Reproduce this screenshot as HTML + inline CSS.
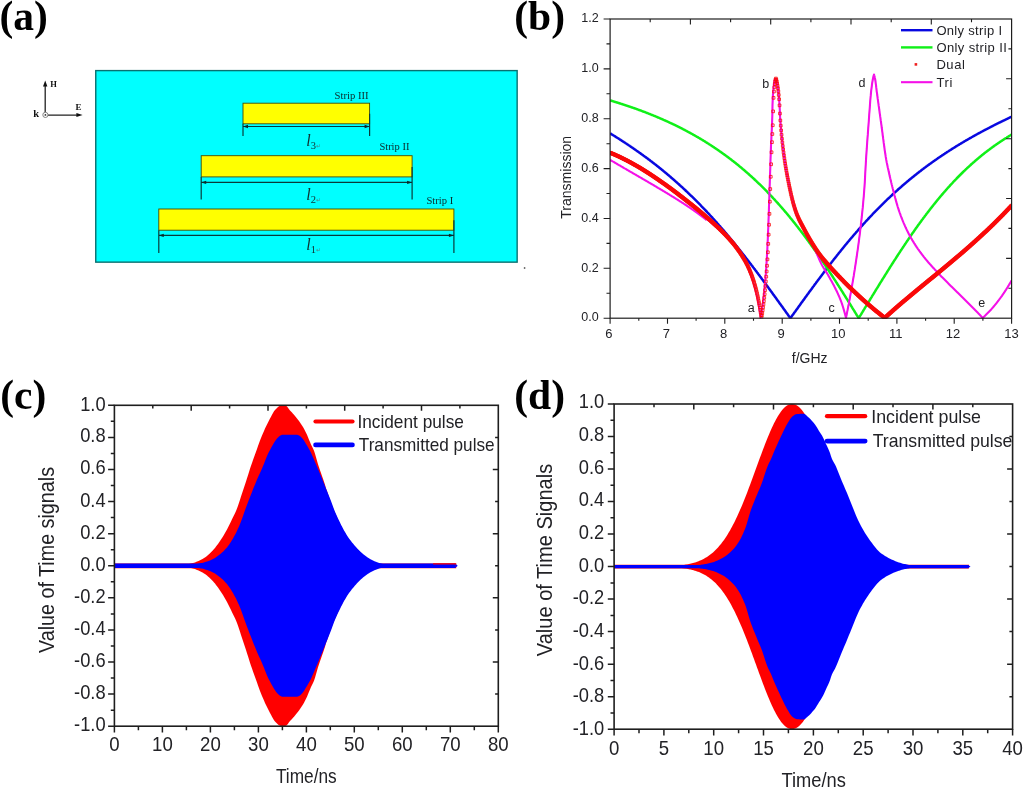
<!DOCTYPE html>
<html lang="en"><head><meta charset="utf-8"><title>Figure</title>
<style>html,body{margin:0;padding:0;background:#fff}svg{display:block}</style></head><body>
<svg width="1025" height="788" viewBox="0 0 1025 788">
<rect width="1025" height="788" fill="#fff"/>
<text x="-0.5" y="29.7" font-family='"Liberation Serif", "Times New Roman", serif' font-weight="bold" font-size="41.5" fill="#000">(a)</text>
<text x="514.3" y="29.5" font-family='"Liberation Serif", "Times New Roman", serif' font-weight="bold" font-size="41.5" fill="#000">(b)</text>
<text x="0.3" y="409.2" font-family='"Liberation Serif", "Times New Roman", serif' font-weight="bold" font-size="41.5" fill="#000">(c)</text>
<text x="514.3" y="408.6" font-family='"Liberation Serif", "Times New Roman", serif' font-weight="bold" font-size="41.5" fill="#000">(d)</text>
<g id="pa">
<rect x="95.75" y="70.6" width="421.4" height="191.55" fill="#00ffff" stroke="#0a7070" stroke-width="1.4"/>
<rect x="243" y="103.2" width="126.6" height="20.6" fill="#ffff00" stroke="#4a4a00" stroke-width="0.9"/>
<path d="M243 123.8 V136 M369.6 113.8 V136 M243 126.5 H369.6" stroke="#0a3a3a" stroke-width="1.2" fill="none"/>
<path d="M243 126.5 l5 -1.7 v3.4 z M369.6 126.5 l-5 -1.7 v3.4 z" fill="#0b2a2a"/>
<text x="334.6" y="99.2" textLength="34" lengthAdjust="spacingAndGlyphs" font-family='"Liberation Serif", "Times New Roman", serif' font-size="11" fill="#0c2c2c">Strip III</text>
<text x="306.3" y="145.6" font-family='"Liberation Serif", "Times New Roman", serif' font-size="16" font-style="italic" fill="#103030">l<tspan font-style="normal" font-size="10.5" dy="3">3</tspan><tspan font-style="normal" font-size="6" fill="#4a8a8a" dy="-1">↵</tspan></text>
<rect x="201.2" y="155.7" width="210.9" height="21.2" fill="#ffff00" stroke="#4a4a00" stroke-width="0.9"/>
<path d="M201.2 176.9 V199.6 M412.1 166.9 V199.6 M201.2 182.4 H412.1" stroke="#0a3a3a" stroke-width="1.2" fill="none"/>
<path d="M201.2 182.4 l5 -1.7 v3.4 z M412.1 182.4 l-5 -1.7 v3.4 z" fill="#0b2a2a"/>
<text x="379.4" y="150.2" textLength="30" lengthAdjust="spacingAndGlyphs" font-family='"Liberation Serif", "Times New Roman", serif' font-size="11" fill="#0c2c2c">Strip II</text>
<text x="306.3" y="199.6" font-family='"Liberation Serif", "Times New Roman", serif' font-size="16" font-style="italic" fill="#103030">l<tspan font-style="normal" font-size="10.5" dy="3">2</tspan><tspan font-style="normal" font-size="6" fill="#4a8a8a" dy="-1">↵</tspan></text>
<rect x="158.8" y="209" width="295.1" height="21.2" fill="#ffff00" stroke="#4a4a00" stroke-width="0.9"/>
<path d="M158.8 230.2 V253 M453.9 220.2 V253 M158.8 235.4 H453.9" stroke="#0a3a3a" stroke-width="1.2" fill="none"/>
<path d="M158.8 235.4 l5 -1.7 v3.4 z M453.9 235.4 l-5 -1.7 v3.4 z" fill="#0b2a2a"/>
<text x="426.5" y="203.6" textLength="26.7" lengthAdjust="spacingAndGlyphs" font-family='"Liberation Serif", "Times New Roman", serif' font-size="11" fill="#0c2c2c">Strip I</text>
<text x="306.3" y="250.0" font-family='"Liberation Serif", "Times New Roman", serif' font-size="16" font-style="italic" fill="#103030">l<tspan font-style="normal" font-size="10.5" dy="3">1</tspan><tspan font-style="normal" font-size="6" fill="#4a8a8a" dy="-1">↵</tspan></text>
<path d="M45.2 115 V84 M45.2 115.1 H78" stroke="#222" stroke-width="1.3" fill="none"/>
<path d="M45.2 80.5 l2.2 6 h-4.4 z M82.6 115.1 l-6.2 -2 v4 z" fill="#111"/>
<circle cx="45.4" cy="114.9" r="2.6" fill="#fff" stroke="#777" stroke-width="0.9"/><circle cx="45.4" cy="114.9" r="0.9" fill="#333"/>
<text x="50.3" y="87.2" font-family='"Liberation Serif", "Times New Roman", serif' font-weight="bold" font-size="8.5" fill="#111">H</text>
<text x="75.5" y="109.6" font-family='"Liberation Serif", "Times New Roman", serif' font-weight="bold" font-size="9" fill="#111">E</text>
<text x="33.3" y="116.8" font-family='"Liberation Serif", "Times New Roman", serif' font-weight="bold" font-size="10.5" fill="#111">k</text>
<circle cx="524.6" cy="268" r="0.9" fill="#666"/>
</g>
<g id="pb">
<clipPath id="cb"><rect x="610.1" y="19.0" width="401.5" height="299.8"/></clipPath>
<g clip-path="url(#cb)" fill="none" stroke-linejoin="round">
<polyline points="610.1,133.3 610.6,133.6 611.1,133.9 611.6,134.3 612.1,134.6 612.6,134.9 613.1,135.2 613.6,135.5 614.1,135.8 614.6,136.1 615.1,136.4 615.6,136.7 616.1,137.1 616.6,137.4 617.1,137.7 617.6,138 618.1,138.3 618.6,138.6 619.1,139 619.6,139.3 620.1,139.6 620.6,139.9 621.1,140.2 621.6,140.6 622.1,140.9 622.6,141.2 623.1,141.5 623.6,141.9 624.1,142.2 624.6,142.5 625.1,142.8 625.6,143.2 626.1,143.5 626.6,143.8 627.1,144.2 627.6,144.5 628.1,144.8 628.6,145.2 629.1,145.5 629.6,145.8 630.1,146.2 630.6,146.5 631.1,146.9 631.6,147.2 632.1,147.5 632.6,147.9 633.1,148.2 633.6,148.6 634.1,148.9 634.6,149.3 635.1,149.6 635.6,150 636.1,150.3 636.6,150.7 637.1,151 637.6,151.4 638.1,151.7 638.6,152.1 639.1,152.4 639.6,152.8 640.1,153.1 640.6,153.5 641.1,153.9 641.6,154.2 642.1,154.6 642.6,154.9 643.1,155.3 643.6,155.7 644.1,156 644.6,156.4 645.1,156.8 645.6,157.1 646.1,157.5 646.6,157.9 647.1,158.2 647.6,158.6 648.1,159 648.6,159.4 649.1,159.7 649.6,160.1 650.1,160.5 650.6,160.9 651.1,161.3 651.6,161.6 652.1,162 652.6,162.4 653.1,162.8 653.6,163.2 654.1,163.6 654.6,164 655.1,164.3 655.6,164.7 656.1,165.1 656.6,165.5 657.1,165.9 657.6,166.3 658.1,166.7 658.6,167.1 659.1,167.5 659.6,167.9 660.1,168.3 660.6,168.7 661.1,169.1 661.6,169.5 662.1,169.9 662.6,170.3 663.1,170.7 663.6,171.2 664.1,171.6 664.6,172 665.1,172.4 665.6,172.8 666.1,173.2 666.6,173.6 667.1,174.1 667.6,174.5 668.1,174.9 668.6,175.3 669.1,175.7 669.6,176.2 670.1,176.6 670.6,177 671.1,177.5 671.6,177.9 672.1,178.3 672.6,178.8 673.1,179.2 673.6,179.6 674.1,180.1 674.6,180.5 675.1,180.9 675.6,181.4 676.1,181.8 676.6,182.3 677.1,182.7 677.6,183.2 678.1,183.6 678.6,184.1 679.1,184.5 679.6,185 680.1,185.4 680.6,185.9 681.1,186.3 681.6,186.8 682.1,187.2 682.6,187.7 683.1,188.2 683.6,188.6 684.1,189.1 684.6,189.6 685.1,190 685.6,190.5 686.1,191 686.6,191.4 687.1,191.9 687.6,192.4 688.1,192.9 688.6,193.3 689.1,193.8 689.6,194.3 690.1,194.8 690.6,195.3 691.1,195.8 691.6,196.2 692.1,196.7 692.6,197.2 693.1,197.7 693.6,198.2 694.1,198.7 694.6,199.2 695.1,199.7 695.6,200.2 696.1,200.7 696.6,201.2 697.1,201.7 697.6,202.2 698.1,202.7 698.6,203.2 699.1,203.7 699.6,204.2 700.1,204.7 700.6,205.2 701.1,205.8 701.6,206.3 702.1,206.8 702.6,207.3 703.1,207.8 703.6,208.4 704.1,208.9 704.6,209.4 705.1,209.9 705.6,210.5 706.1,211 706.6,211.5 707.1,212 707.6,212.6 708.1,213.1 708.6,213.7 709.1,214.2 709.6,214.7 710.1,215.3 710.6,215.8 711.1,216.4 711.6,216.9 712.1,217.5 712.6,218 713.1,218.6 713.6,219.1 714.1,219.7 714.6,220.2 715.1,220.8 715.6,221.3 716.1,221.9 716.6,222.5 717.1,223 717.6,223.6 718.1,224.1 718.6,224.7 719.1,225.3 719.6,225.8 720.1,226.4 720.6,227 721.1,227.6 721.6,228.1 722.1,228.7 722.6,229.3 723.1,229.9 723.6,230.5 724.1,231 724.6,231.6 725.1,232.2 725.6,232.8 726.1,233.4 726.6,234 727.1,234.6 727.6,235.2 728.1,235.8 728.6,236.4 729.1,237 729.6,237.6 730.1,238.2 730.6,238.8 731.1,239.4 731.6,240 732.1,240.6 732.6,241.2 733.1,241.8 733.6,242.4 734.1,243 734.6,243.6 735.1,244.2 735.6,244.8 736.1,245.5 736.6,246.1 737.1,246.7 737.6,247.3 738.1,247.9 738.6,248.6 739.1,249.2 739.6,249.8 740.1,250.4 740.6,251.1 741.1,251.7 741.6,252.3 742.1,253 742.6,253.6 743.1,254.2 743.6,254.9 744.1,255.5 744.6,256.1 745.1,256.8 745.6,257.4 746.1,258.1 746.6,258.7 747.1,259.3 747.6,260 748.1,260.6 748.6,261.3 749.1,261.9 749.6,262.6 750.1,263.2 750.6,263.9 751.1,264.5 751.6,265.2 752.1,265.8 752.6,266.5 753.1,267.2 753.6,267.8 754.1,268.5 754.6,269.1 755.1,269.8 755.6,270.5 756.1,271.1 756.6,271.8 757.1,272.5 757.6,273.1 758.1,273.8 758.6,274.5 759.1,275.1 759.6,275.8 760.1,276.5 760.6,277.1 761.1,277.8 761.6,278.5 762.1,279.2 762.6,279.8 763.1,280.5 763.6,281.2 764.1,281.9 764.6,282.5 765.1,283.2 765.6,283.9 766.1,284.6 766.6,285.3 767.1,285.9 767.6,286.6 768.1,287.3 768.6,288 769.1,288.7 769.6,289.4 770.1,290 770.6,290.7 771.1,291.4 771.6,292.1 772.1,292.8 772.6,293.5 773.1,294.2 773.6,294.9 774.1,295.5 774.6,296.2 775.1,296.9 775.6,297.6 776.1,298.3 776.6,299 777.1,299.7 777.6,300.4 778.1,301.1 778.6,301.8 779.1,302.5 779.6,303.2 780.1,303.9 780.6,304.5 781.1,305.2 781.6,305.9 782.1,306.6 782.6,307.3 783.1,308 783.6,308.7 784.1,309.4 784.6,310.1 785.1,310.8 785.6,311.5 786.1,312.2 786.6,312.9 787.1,313.6 787.6,314.3 788.1,315 788.6,315.7 789.1,316.4 789.6,317.1 790.1,317.8 790.4,318.2 790.6,317.9 791.1,317.2 791.6,316.5 792.1,315.8 792.6,315.1 793.1,314.4 793.6,313.7 794.1,313 794.6,312.3 795.1,311.7 795.6,311 796.1,310.3 796.6,309.6 797.1,308.9 797.6,308.2 798.1,307.5 798.6,306.8 799.1,306.1 799.6,305.4 800.1,304.7 800.6,304 801.1,303.3 801.6,302.6 802.1,301.9 802.6,301.2 803.1,300.5 803.6,299.9 804.1,299.2 804.6,298.5 805.1,297.8 805.6,297.1 806.1,296.4 806.6,295.7 807.1,295 807.6,294.3 808.1,293.7 808.6,293 809.1,292.3 809.6,291.6 810.1,290.9 810.6,290.2 811.1,289.6 811.6,288.9 812.1,288.2 812.6,287.5 813.1,286.8 813.6,286.2 814.1,285.5 814.6,284.8 815.1,284.1 815.6,283.5 816.1,282.8 816.6,282.1 817.1,281.4 817.6,280.8 818.1,280.1 818.6,279.4 819.1,278.7 819.6,278.1 820.1,277.4 820.6,276.7 821.1,276.1 821.6,275.4 822.1,274.7 822.6,274.1 823.1,273.4 823.6,272.8 824.1,272.1 824.6,271.4 825.1,270.8 825.6,270.1 826.1,269.5 826.6,268.8 827.1,268.2 827.6,267.5 828.1,266.9 828.6,266.2 829.1,265.6 829.6,264.9 830.1,264.3 830.6,263.6 831.1,263 831.6,262.3 832.1,261.7 832.6,261 833.1,260.4 833.6,259.8 834.1,259.1 834.6,258.5 835.1,257.9 835.6,257.2 836.1,256.6 836.6,256 837.1,255.3 837.6,254.7 838.1,254.1 838.6,253.4 839.1,252.8 839.6,252.2 840.1,251.6 840.6,251 841.1,250.3 841.6,249.7 842.1,249.1 842.6,248.5 843.1,247.9 843.6,247.3 844.1,246.6 844.6,246 845.1,245.4 845.6,244.8 846.1,244.2 846.6,243.6 847.1,243 847.6,242.4 848.1,241.8 848.6,241.2 849.1,240.6 849.6,240 850.1,239.4 850.6,238.8 851.1,238.2 851.6,237.6 852.1,237.1 852.6,236.5 853.1,235.9 853.6,235.3 854.1,234.7 854.6,234.1 855.1,233.6 855.6,233 856.1,232.4 856.6,231.8 857.1,231.3 857.6,230.7 858.1,230.1 858.6,229.5 859.1,229 859.6,228.4 860.1,227.8 860.6,227.3 861.1,226.7 861.6,226.2 862.1,225.6 862.6,225 863.1,224.5 863.6,223.9 864.1,223.4 864.6,222.8 865.1,222.3 865.6,221.7 866.1,221.2 866.6,220.7 867.1,220.1 867.6,219.6 868.1,219 868.6,218.5 869.1,218 869.6,217.4 870.1,216.9 870.6,216.4 871.1,215.8 871.6,215.3 872.1,214.8 872.6,214.2 873.1,213.7 873.6,213.2 874.1,212.7 874.6,212.2 875.1,211.6 875.6,211.1 876.1,210.6 876.6,210.1 877.1,209.6 877.6,209.1 878.1,208.6 878.6,208.1 879.1,207.6 879.6,207.1 880.1,206.6 880.6,206.1 881.1,205.6 881.6,205.1 882.1,204.6 882.6,204.1 883.1,203.6 883.6,203.1 884.1,202.6 884.6,202.1 885.1,201.6 885.6,201.1 886.1,200.7 886.6,200.2 887.1,199.7 887.6,199.2 888.1,198.7 888.6,198.3 889.1,197.8 889.6,197.3 890.1,196.9 890.6,196.4 891.1,195.9 891.6,195.5 892.1,195 892.6,194.5 893.1,194.1 893.6,193.6 894.1,193.1 894.6,192.7 895.1,192.2 895.6,191.8 896.1,191.3 896.6,190.9 897.1,190.4 897.6,190 898.1,189.5 898.6,189.1 899.1,188.6 899.6,188.2 900.1,187.8 900.6,187.3 901.1,186.9 901.6,186.4 902.1,186 902.6,185.6 903.1,185.1 903.6,184.7 904.1,184.3 904.6,183.8 905.1,183.4 905.6,183 906.1,182.6 906.6,182.2 907.1,181.7 907.6,181.3 908.1,180.9 908.6,180.5 909.1,180.1 909.6,179.6 910.1,179.2 910.6,178.8 911.1,178.4 911.6,178 912.1,177.6 912.6,177.2 913.1,176.8 913.6,176.4 914.1,176 914.6,175.6 915.1,175.2 915.6,174.8 916.1,174.4 916.6,174 917.1,173.6 917.6,173.2 918.1,172.8 918.6,172.4 919.1,172 919.6,171.6 920.1,171.3 920.6,170.9 921.1,170.5 921.6,170.1 922.1,169.7 922.6,169.3 923.1,169 923.6,168.6 924.1,168.2 924.6,167.8 925.1,167.5 925.6,167.1 926.1,166.7 926.6,166.3 927.1,166 927.6,165.6 928.1,165.2 928.6,164.9 929.1,164.5 929.6,164.1 930.1,163.8 930.6,163.4 931.1,163.1 931.6,162.7 932.1,162.3 932.6,162 933.1,161.6 933.6,161.3 934.1,160.9 934.6,160.6 935.1,160.2 935.6,159.9 936.1,159.5 936.6,159.2 937.1,158.8 937.6,158.5 938.1,158.1 938.6,157.8 939.1,157.5 939.6,157.1 940.1,156.8 940.6,156.4 941.1,156.1 941.6,155.8 942.1,155.4 942.6,155.1 943.1,154.8 943.6,154.4 944.1,154.1 944.6,153.8 945.1,153.4 945.6,153.1 946.1,152.8 946.6,152.4 947.1,152.1 947.6,151.8 948.1,151.5 948.6,151.2 949.1,150.8 949.6,150.5 950.1,150.2 950.6,149.9 951.1,149.6 951.6,149.2 952.1,148.9 952.6,148.6 953.1,148.3 953.6,148 954.1,147.7 954.6,147.4 955.1,147 955.6,146.7 956.1,146.4 956.6,146.1 957.1,145.8 957.6,145.5 958.1,145.2 958.6,144.9 959.1,144.6 959.6,144.3 960.1,144 960.6,143.7 961.1,143.4 961.6,143.1 962.1,142.8 962.6,142.5 963.1,142.2 963.6,141.9 964.1,141.6 964.6,141.3 965.1,141 965.6,140.7 966.1,140.4 966.6,140.1 967.1,139.9 967.6,139.6 968.1,139.3 968.6,139 969.1,138.7 969.6,138.4 970.1,138.1 970.6,137.8 971.1,137.6 971.6,137.3 972.1,137 972.6,136.7 973.1,136.4 973.6,136.2 974.1,135.9 974.6,135.6 975.1,135.3 975.6,135 976.1,134.8 976.6,134.5 977.1,134.2 977.6,133.9 978.1,133.7 978.6,133.4 979.1,133.1 979.6,132.8 980.1,132.6 980.6,132.3 981.1,132 981.6,131.8 982.1,131.5 982.6,131.2 983.1,131 983.6,130.7 984.1,130.4 984.6,130.2 985.1,129.9 985.6,129.6 986.1,129.4 986.6,129.1 987.1,128.9 987.6,128.6 988.1,128.3 988.6,128.1 989.1,127.8 989.6,127.6 990.1,127.3 990.6,127 991.1,126.8 991.6,126.5 992.1,126.3 992.6,126 993.1,125.8 993.6,125.5 994.1,125.2 994.6,125 995.1,124.7 995.6,124.5 996.1,124.2 996.6,124 997.1,123.7 997.6,123.5 998.1,123.2 998.6,123 999.1,122.7 999.6,122.5 1000.1,122.3 1000.6,122 1001.1,121.8 1001.6,121.5 1002.1,121.3 1002.6,121 1003.1,120.8 1003.6,120.5 1004.1,120.3 1004.6,120.1 1005.1,119.8 1005.6,119.6 1006.1,119.3 1006.6,119.1 1007.1,118.9 1007.6,118.6 1008.1,118.4 1008.6,118.1 1009.1,117.9 1009.6,117.7 1010.1,117.4 1010.6,117.2 1011.1,117 1011.6,116.7" stroke="#0808e0" stroke-width="2.5"/>
<polyline points="610.1,100.4 610.6,100.5 611.1,100.7 611.6,100.8 612.1,101 612.6,101.1 613.1,101.3 613.6,101.4 614.1,101.6 614.6,101.8 615.1,101.9 615.6,102.1 616.1,102.2 616.6,102.4 617.1,102.5 617.6,102.7 618.1,102.8 618.6,103 619.1,103.2 619.6,103.3 620.1,103.5 620.6,103.6 621.1,103.8 621.6,104 622.1,104.1 622.6,104.3 623.1,104.4 623.6,104.6 624.1,104.8 624.6,104.9 625.1,105.1 625.6,105.3 626.1,105.4 626.6,105.6 627.1,105.8 627.6,105.9 628.1,106.1 628.6,106.3 629.1,106.4 629.6,106.6 630.1,106.8 630.6,106.9 631.1,107.1 631.6,107.3 632.1,107.5 632.6,107.6 633.1,107.8 633.6,108 634.1,108.2 634.6,108.3 635.1,108.5 635.6,108.7 636.1,108.9 636.6,109.1 637.1,109.2 637.6,109.4 638.1,109.6 638.6,109.8 639.1,110 639.6,110.2 640.1,110.3 640.6,110.5 641.1,110.7 641.6,110.9 642.1,111.1 642.6,111.3 643.1,111.5 643.6,111.7 644.1,111.8 644.6,112 645.1,112.2 645.6,112.4 646.1,112.6 646.6,112.8 647.1,113 647.6,113.2 648.1,113.4 648.6,113.6 649.1,113.8 649.6,114 650.1,114.2 650.6,114.4 651.1,114.6 651.6,114.8 652.1,115 652.6,115.2 653.1,115.4 653.6,115.6 654.1,115.8 654.6,116 655.1,116.2 655.6,116.4 656.1,116.6 656.6,116.8 657.1,117 657.6,117.3 658.1,117.5 658.6,117.7 659.1,117.9 659.6,118.1 660.1,118.3 660.6,118.5 661.1,118.8 661.6,119 662.1,119.2 662.6,119.4 663.1,119.6 663.6,119.9 664.1,120.1 664.6,120.3 665.1,120.5 665.6,120.7 666.1,121 666.6,121.2 667.1,121.4 667.6,121.7 668.1,121.9 668.6,122.1 669.1,122.3 669.6,122.6 670.1,122.8 670.6,123 671.1,123.3 671.6,123.5 672.1,123.7 672.6,124 673.1,124.2 673.6,124.5 674.1,124.7 674.6,124.9 675.1,125.2 675.6,125.4 676.1,125.7 676.6,125.9 677.1,126.2 677.6,126.4 678.1,126.7 678.6,126.9 679.1,127.2 679.6,127.4 680.1,127.7 680.6,127.9 681.1,128.2 681.6,128.4 682.1,128.7 682.6,128.9 683.1,129.2 683.6,129.5 684.1,129.7 684.6,130 685.1,130.2 685.6,130.5 686.1,130.8 686.6,131 687.1,131.3 687.6,131.6 688.1,131.8 688.6,132.1 689.1,132.4 689.6,132.6 690.1,132.9 690.6,133.2 691.1,133.5 691.6,133.7 692.1,134 692.6,134.3 693.1,134.6 693.6,134.9 694.1,135.1 694.6,135.4 695.1,135.7 695.6,136 696.1,136.3 696.6,136.6 697.1,136.9 697.6,137.1 698.1,137.4 698.6,137.7 699.1,138 699.6,138.3 700.1,138.6 700.6,138.9 701.1,139.2 701.6,139.5 702.1,139.8 702.6,140.1 703.1,140.4 703.6,140.7 704.1,141 704.6,141.3 705.1,141.6 705.6,142 706.1,142.3 706.6,142.6 707.1,142.9 707.6,143.2 708.1,143.5 708.6,143.8 709.1,144.2 709.6,144.5 710.1,144.8 710.6,145.1 711.1,145.5 711.6,145.8 712.1,146.1 712.6,146.4 713.1,146.8 713.6,147.1 714.1,147.4 714.6,147.8 715.1,148.1 715.6,148.4 716.1,148.8 716.6,149.1 717.1,149.5 717.6,149.8 718.1,150.1 718.6,150.5 719.1,150.8 719.6,151.2 720.1,151.5 720.6,151.9 721.1,152.2 721.6,152.6 722.1,152.9 722.6,153.3 723.1,153.7 723.6,154 724.1,154.4 724.6,154.7 725.1,155.1 725.6,155.5 726.1,155.8 726.6,156.2 727.1,156.6 727.6,156.9 728.1,157.3 728.6,157.7 729.1,158.1 729.6,158.5 730.1,158.8 730.6,159.2 731.1,159.6 731.6,160 732.1,160.4 732.6,160.8 733.1,161.1 733.6,161.5 734.1,161.9 734.6,162.3 735.1,162.7 735.6,163.1 736.1,163.5 736.6,163.9 737.1,164.3 737.6,164.7 738.1,165.1 738.6,165.5 739.1,165.9 739.6,166.4 740.1,166.8 740.6,167.2 741.1,167.6 741.6,168 742.1,168.4 742.6,168.9 743.1,169.3 743.6,169.7 744.1,170.1 744.6,170.6 745.1,171 745.6,171.4 746.1,171.9 746.6,172.3 747.1,172.7 747.6,173.2 748.1,173.6 748.6,174 749.1,174.5 749.6,174.9 750.1,175.4 750.6,175.8 751.1,176.3 751.6,176.7 752.1,177.2 752.6,177.7 753.1,178.1 753.6,178.6 754.1,179 754.6,179.5 755.1,180 755.6,180.4 756.1,180.9 756.6,181.4 757.1,181.9 757.6,182.3 758.1,182.8 758.6,183.3 759.1,183.8 759.6,184.2 760.1,184.7 760.6,185.2 761.1,185.7 761.6,186.2 762.1,186.7 762.6,187.2 763.1,187.7 763.6,188.2 764.1,188.7 764.6,189.2 765.1,189.7 765.6,190.2 766.1,190.7 766.6,191.2 767.1,191.7 767.6,192.3 768.1,192.8 768.6,193.3 769.1,193.8 769.6,194.3 770.1,194.9 770.6,195.4 771.1,195.9 771.6,196.4 772.1,197 772.6,197.5 773.1,198.1 773.6,198.6 774.1,199.1 774.6,199.7 775.1,200.2 775.6,200.8 776.1,201.3 776.6,201.9 777.1,202.4 777.6,203 778.1,203.5 778.6,204.1 779.1,204.7 779.6,205.2 780.1,205.8 780.6,206.4 781.1,206.9 781.6,207.5 782.1,208.1 782.6,208.7 783.1,209.2 783.6,209.8 784.1,210.4 784.6,211 785.1,211.6 785.6,212.2 786.1,212.7 786.6,213.3 787.1,213.9 787.6,214.5 788.1,215.1 788.6,215.7 789.1,216.3 789.6,216.9 790.1,217.6 790.6,218.2 791.1,218.8 791.6,219.4 792.1,220 792.6,220.6 793.1,221.2 793.6,221.9 794.1,222.5 794.6,223.1 795.1,223.8 795.6,224.4 796.1,225 796.6,225.7 797.1,226.3 797.6,226.9 798.1,227.6 798.6,228.2 799.1,228.9 799.6,229.5 800.1,230.2 800.6,230.8 801.1,231.5 801.6,232.1 802.1,232.8 802.6,233.4 803.1,234.1 803.6,234.8 804.1,235.4 804.6,236.1 805.1,236.8 805.6,237.4 806.1,238.1 806.6,238.8 807.1,239.5 807.6,240.2 808.1,240.8 808.6,241.5 809.1,242.2 809.6,242.9 810.1,243.6 810.6,244.3 811.1,245 811.6,245.7 812.1,246.4 812.6,247.1 813.1,247.8 813.6,248.5 814.1,249.2 814.6,249.9 815.1,250.6 815.6,251.3 816.1,252 816.6,252.7 817.1,253.5 817.6,254.2 818.1,254.9 818.6,255.6 819.1,256.3 819.6,257.1 820.1,257.8 820.6,258.5 821.1,259.3 821.6,260 822.1,260.7 822.6,261.5 823.1,262.2 823.6,262.9 824.1,263.7 824.6,264.4 825.1,265.2 825.6,265.9 826.1,266.7 826.6,267.4 827.1,268.2 827.6,268.9 828.1,269.7 828.6,270.4 829.1,271.2 829.6,272 830.1,272.7 830.6,273.5 831.1,274.2 831.6,275 832.1,275.8 832.6,276.5 833.1,277.3 833.6,278.1 834.1,278.9 834.6,279.6 835.1,280.4 835.6,281.2 836.1,282 836.6,282.7 837.1,283.5 837.6,284.3 838.1,285.1 838.6,285.9 839.1,286.7 839.6,287.4 840.1,288.2 840.6,289 841.1,289.8 841.6,290.6 842.1,291.4 842.6,292.2 843.1,293 843.6,293.8 844.1,294.6 844.6,295.4 845.1,296.2 845.6,297 846.1,297.8 846.6,298.6 847.1,299.4 847.6,300.2 848.1,301 848.6,301.8 849.1,302.6 849.6,303.4 850.1,304.2 850.6,305 851.1,305.8 851.6,306.6 852.1,307.4 852.6,308.3 853.1,309.1 853.6,309.9 854.1,310.7 854.6,311.5 855.1,312.3 855.6,313.1 856.1,314 856.6,314.8 857.1,315.6 857.6,316.4 858.1,317.2 858.6,318 858.7,318.2 859.1,317.5 859.6,316.7 860.1,315.9 860.6,315.1 861.1,314.3 861.6,313.5 862.1,312.6 862.6,311.8 863.1,311 863.6,310.2 864.1,309.4 864.6,308.5 865.1,307.7 865.6,306.9 866.1,306.1 866.6,305.3 867.1,304.4 867.6,303.6 868.1,302.8 868.6,302 869.1,301.2 869.6,300.3 870.1,299.5 870.6,298.7 871.1,297.9 871.6,297.1 872.1,296.2 872.6,295.4 873.1,294.6 873.6,293.8 874.1,293 874.6,292.2 875.1,291.3 875.6,290.5 876.1,289.7 876.6,288.9 877.1,288.1 877.6,287.3 878.1,286.5 878.6,285.7 879.1,284.8 879.6,284 880.1,283.2 880.6,282.4 881.1,281.6 881.6,280.8 882.1,280 882.6,279.2 883.1,278.4 883.6,277.6 884.1,276.8 884.6,276 885.1,275.2 885.6,274.4 886.1,273.6 886.6,272.8 887.1,272 887.6,271.2 888.1,270.4 888.6,269.6 889.1,268.8 889.6,268 890.1,267.2 890.6,266.4 891.1,265.6 891.6,264.8 892.1,264 892.6,263.3 893.1,262.5 893.6,261.7 894.1,260.9 894.6,260.1 895.1,259.4 895.6,258.6 896.1,257.8 896.6,257 897.1,256.3 897.6,255.5 898.1,254.7 898.6,253.9 899.1,253.2 899.6,252.4 900.1,251.7 900.6,250.9 901.1,250.1 901.6,249.4 902.1,248.6 902.6,247.9 903.1,247.1 903.6,246.4 904.1,245.6 904.6,244.9 905.1,244.1 905.6,243.4 906.1,242.6 906.6,241.9 907.1,241.1 907.6,240.4 908.1,239.7 908.6,238.9 909.1,238.2 909.6,237.5 910.1,236.7 910.6,236 911.1,235.3 911.6,234.6 912.1,233.8 912.6,233.1 913.1,232.4 913.6,231.7 914.1,231 914.6,230.3 915.1,229.6 915.6,228.8 916.1,228.1 916.6,227.4 917.1,226.7 917.6,226 918.1,225.3 918.6,224.6 919.1,224 919.6,223.3 920.1,222.6 920.6,221.9 921.1,221.2 921.6,220.5 922.1,219.8 922.6,219.2 923.1,218.5 923.6,217.8 924.1,217.2 924.6,216.5 925.1,215.8 925.6,215.2 926.1,214.5 926.6,213.8 927.1,213.2 927.6,212.5 928.1,211.9 928.6,211.2 929.1,210.6 929.6,209.9 930.1,209.3 930.6,208.6 931.1,208 931.6,207.4 932.1,206.7 932.6,206.1 933.1,205.5 933.6,204.8 934.1,204.2 934.6,203.6 935.1,203 935.6,202.4 936.1,201.7 936.6,201.1 937.1,200.5 937.6,199.9 938.1,199.3 938.6,198.7 939.1,198.1 939.6,197.5 940.1,196.9 940.6,196.3 941.1,195.7 941.6,195.1 942.1,194.5 942.6,194 943.1,193.4 943.6,192.8 944.1,192.2 944.6,191.6 945.1,191.1 945.6,190.5 946.1,189.9 946.6,189.4 947.1,188.8 947.6,188.2 948.1,187.7 948.6,187.1 949.1,186.6 949.6,186 950.1,185.5 950.6,184.9 951.1,184.4 951.6,183.8 952.1,183.3 952.6,182.8 953.1,182.2 953.6,181.7 954.1,181.2 954.6,180.6 955.1,180.1 955.6,179.6 956.1,179.1 956.6,178.5 957.1,178 957.6,177.5 958.1,177 958.6,176.5 959.1,176 959.6,175.5 960.1,175 960.6,174.5 961.1,174 961.6,173.5 962.1,173 962.6,172.5 963.1,172 963.6,171.5 964.1,171.1 964.6,170.6 965.1,170.1 965.6,169.6 966.1,169.1 966.6,168.7 967.1,168.2 967.6,167.7 968.1,167.3 968.6,166.8 969.1,166.3 969.6,165.9 970.1,165.4 970.6,165 971.1,164.5 971.6,164.1 972.1,163.6 972.6,163.2 973.1,162.7 973.6,162.3 974.1,161.9 974.6,161.4 975.1,161 975.6,160.6 976.1,160.1 976.6,159.7 977.1,159.3 977.6,158.8 978.1,158.4 978.6,158 979.1,157.6 979.6,157.2 980.1,156.8 980.6,156.3 981.1,155.9 981.6,155.5 982.1,155.1 982.6,154.7 983.1,154.3 983.6,153.9 984.1,153.5 984.6,153.1 985.1,152.7 985.6,152.3 986.1,152 986.6,151.6 987.1,151.2 987.6,150.8 988.1,150.4 988.6,150 989.1,149.7 989.6,149.3 990.1,148.9 990.6,148.5 991.1,148.2 991.6,147.8 992.1,147.4 992.6,147.1 993.1,146.7 993.6,146.4 994.1,146 994.6,145.6 995.1,145.3 995.6,144.9 996.1,144.6 996.6,144.2 997.1,143.9 997.6,143.6 998.1,143.2 998.6,142.9 999.1,142.5 999.6,142.2 1000.1,141.9 1000.6,141.5 1001.1,141.2 1001.6,140.9 1002.1,140.5 1002.6,140.2 1003.1,139.9 1003.6,139.6 1004.1,139.2 1004.6,138.9 1005.1,138.6 1005.6,138.3 1006.1,138 1006.6,137.7 1007.1,137.3 1007.6,137 1008.1,136.7 1008.6,136.4 1009.1,136.1 1009.6,135.8 1010.1,135.5 1010.6,135.2 1011.1,134.9 1011.6,134.6" stroke="#10f018" stroke-width="2.5"/>
<polyline points="610.1,159.9 610.6,160.2 611.1,160.5 611.6,160.8 612.1,161.1 612.6,161.4 613.1,161.6 613.6,161.9 614.1,162.2 614.6,162.5 615.1,162.8 615.6,163.1 616.1,163.4 616.6,163.7 617.1,164 617.6,164.3 618.1,164.6 618.6,164.9 619.1,165.2 619.6,165.4 620.1,165.7 620.6,166 621.1,166.3 621.6,166.6 622.1,166.9 622.6,167.2 623.1,167.5 623.6,167.8 624.1,168.1 624.6,168.4 625.1,168.6 625.6,168.9 626.1,169.2 626.6,169.5 627.1,169.8 627.6,170.1 628.1,170.4 628.6,170.7 629.1,171 629.6,171.3 630.1,171.6 630.6,171.8 631.1,172.1 631.6,172.4 632.1,172.7 632.6,173 633.1,173.3 633.6,173.6 634.1,173.9 634.6,174.2 635.1,174.4 635.6,174.7 636.1,175 636.6,175.3 637.1,175.6 637.6,175.9 638.1,176.2 638.6,176.5 639.1,176.8 639.6,177.1 640.1,177.3 640.6,177.6 641.1,177.9 641.6,178.2 642.1,178.5 642.6,178.8 643.1,179.1 643.6,179.4 644.1,179.7 644.6,180 645.1,180.2 645.6,180.5 646.1,180.8 646.6,181.1 647.1,181.4 647.6,181.7 648.1,182 648.6,182.3 649.1,182.6 649.6,182.9 650.1,183.2 650.6,183.5 651.1,183.7 651.6,184 652.1,184.3 652.6,184.6 653.1,184.9 653.6,185.2 654.1,185.5 654.6,185.8 655.1,186.1 655.6,186.4 656.1,186.7 656.6,187 657.1,187.3 657.6,187.6 658,187.9 658.5,188.2 659,188.4 659.5,188.7 660,189 660.5,189.3 661,189.6 661.5,189.9 662,190.2 662.5,190.5 663,190.8 663.5,191.1 664,191.4 664.5,191.7 665,192 665.5,192.3 666,192.6 666.5,192.9 667,193.2 667.5,193.5 668,193.8 668.5,194.1 669,194.4 669.5,194.7 670,195.1 670.5,195.4 671,195.7 671.5,196 672,196.3 672.5,196.6 673,196.9 673.5,197.2 674,197.5 674.5,197.8 675,198.1 675.5,198.4 676,198.8 676.5,199.1 677,199.4 677.5,199.7 678,200 678.5,200.3 679,200.6 679.5,201 680,201.3 680.5,201.6 681,201.9 681.5,202.2 682,202.6 682.5,202.9 683,203.2 683.5,203.5 684,203.9 684.5,204.2 685,204.5 685.5,204.8 686,205.2 686.5,205.5 687,205.8 687.5,206.2 688,206.5 688.5,206.8 689,207.2 689.5,207.5 690,207.9 690.5,208.2 691,208.5 691.5,208.9 692,209.2 692.5,209.6 693,209.9 693.5,210.3 694,210.6 694.5,211 695,211.3 695.5,211.7 696,212 696.5,212.4 697,212.8 697.5,213.1 698,213.5 698.5,213.8 699,214.2 699.5,214.6 700,215 700.5,215.3 701,215.7 701.5,216.1 702,216.5 702.5,216.8 703,217.2 703.5,217.6 704,218 704.5,218.4 705,218.8 705.5,219.2 706,219.6 706.2,218.4 706.5,218.6 706.8,218.8 707,219 707.2,219.2 707.5,219.5 707.8,219.7 708,219.9 708.2,220.1 708.5,220.3 708.8,220.5 709,220.7 709.2,220.9 709.5,221.1 709.8,221.3 710,221.6 710.2,221.8 710.5,222 710.8,222.2 711,222.4 711.2,222.6 711.5,222.8 711.8,223.1 712,223.3 712.2,223.5 712.5,223.7 712.8,223.9 713,224.1 713.2,224.4 713.5,224.6 713.8,224.8 714,225 714.2,225.2 714.5,225.4 714.8,225.7 715,225.9 715.2,226.1 715.5,226.3 715.8,226.6 716,226.8 716.2,227 716.5,227.2 716.8,227.5 717,227.7 717.2,227.9 717.5,228.1 717.8,228.4 718,228.6 718.2,228.8 718.5,229 718.8,229.3 719,229.5 719.2,229.7 719.5,230 719.8,230.2 720,230.4 720.2,230.7 720.5,230.9 720.8,231.1 721,231.4 721.2,231.6 721.5,231.8 721.8,232.1 722,232.3 722.2,232.6 722.5,232.8 722.8,233 723,233.3 723.2,233.5 723.5,233.8 723.8,234 724,234.3 724.2,234.5 724.5,234.8 724.8,235 725,235.3 725.2,235.5 725.5,235.8 725.8,236 726,236.3 726.2,236.5 726.5,236.8 726.8,237 727,237.3 727.2,237.6 727.5,237.8 727.8,238.1 728,238.3 728.2,238.6 728.5,238.9 728.8,239.1 729,239.4 729.2,239.7 729.5,239.9 729.8,240.2 730,240.5 730.2,240.8 730.5,241 730.8,241.3 731,241.6 731.2,241.9 731.5,242.2 731.8,242.4 732,242.7 732.2,243 732.5,243.3 732.8,243.6 733,243.9 733.2,244.2 733.5,244.5 733.8,244.8 734,245.1 734.2,245.4 734.5,245.7 734.8,246 735,246.3 735.2,246.6 735.5,246.9 735.8,247.2 736,247.5 736.2,247.8 736.5,248.2 736.8,248.5 737,248.8 737.2,249.1 737.5,249.5 737.8,249.8 738,250.1 738.2,250.5 738.5,250.8 738.8,251.2 739,251.5 739.2,251.9 739.5,252.2 739.8,252.6 740,252.9 740.2,253.3 740.5,253.7 740.8,254 741,254.4 741.2,254.8 741.5,255.2 741.8,255.5 742,255.9 742.2,256.3 742.5,256.7 742.8,257.1 743,257.5 743.2,257.9 743.5,258.3 743.8,258.8 744,259.2 744.2,259.6 744.5,260 744.8,260.5 745,260.9 745.2,261.4 745.5,261.8 745.8,262.3 746,262.7 746.2,263.2 746.5,263.7 746.8,264.2 747,264.7 747.2,265.2 747.5,265.7 747.8,266.2 748,266.7 748.2,267.2 748.5,267.7 748.8,268.3 749,268.8 749.2,269.4 749.5,270 749.8,270.5 749.3,271.1 749.5,271.7 749.8,272.3 750,273 750.3,273.6 750.5,274.2 750.8,274.9 751,275.6 751.3,276.3 751.5,277 751.8,277.7 752,278.4 752.3,279.1 752.5,279.9 752.8,280.6 753,281.4 753.3,282.2 753.5,283 753.8,283.8 754,284.7 754.3,285.6 754.5,286.4 754.8,287.3 755,288.3 755.3,289.2 755.5,290.2 755.8,291.2 756,292.2 756.3,293.3 756.5,294.3 756.8,295.4 757,296.6 757.3,297.7 757.5,298.9 757.8,300.2 758,301.4 758.3,302.7 758.5,304.1 758.8,305.4 759,306.9 759.3,308.3 759.5,309.8 759.8,311.4 760,313 760.3,314.7 760.5,316.4 760.8,318.2 761,316.2 761.3,314.7 761.5,313.1 761.8,311.5 762,309.8 762.3,307.9 762.5,306.1 762.8,304.1 763,302.1 763.3,300.1 763.5,298 763.8,295.8 764,293.4 764.3,291 764.5,288.4 764.8,285.8 765,283 765.3,280.1 765.5,277 765.8,273.9 766,270.5 766.3,267 766.5,263.2 766.8,259.2 767,254.8 767.3,250 767.5,244.8 767.8,239.2 768,233.2 768.3,227.1 768.5,220.7 768.8,213.7 769,206.2 769.3,198.4 769.5,190.6 769.8,183 770,175.2 770.3,167.4 770.5,159.7 770.8,152.4 771,145.8 771.3,140.2 771.5,135.1 771.8,130 772,124.1 772.3,115.9 772.5,105.1 772.8,98 773,93.9 773.3,90.6 773.5,87.9 773.8,85.7 774,83.9 774.3,82.3 774.5,80.8 774.8,79.6 775,78.8 776,78.8 776.2,79.6 776.5,80.5 776.8,81.6 777,82.8 777.2,84.2 777.5,85.6 777.8,87.1 778,88.8 778.2,90.7 778.5,92.8 778.8,95.2 779,97.8 779.2,100.7 779.5,104.7 779.8,109.8 780,114.9 780.2,119.2 780.5,122.6 780.8,125.8 781,128.7 781.2,131.6 781.5,134.3 781.8,136.8 782,139.3 782.2,141.6 782.5,143.9 782.8,146 783,148.1 783.2,150.1 783.5,152 783.8,153.9 784,155.8 784.2,157.6 784.5,159.3 784.8,161 785,162.6 785.2,164.2 785.5,165.7 785.8,167.3 786,168.7 786.2,170.2 786.5,171.6 786.8,173 787,174.3 787.2,175.6 787.5,176.9 787.8,178.2 788,179.5 788.2,180.8 788.5,182 788.8,183.3 789,184.5 789.2,185.7 789.5,186.9 789.8,188.1 790,189.3 790.2,190.5 790.5,191.6 790.8,192.7 791,193.9 791.2,195 791.5,196 791.8,197.1 792,198.1 792.2,199.2 792.5,200.2 792.8,201.1 793,202.1 793.2,203 793.5,203.9 793.8,204.8 794,205.6 794.2,206.5 794.5,207.3 794.8,208.1 795,208.9 795.2,209.6 795.5,210.4 795.8,211.1 796,211.8 796.2,212.5 796.5,213.2 796.8,213.9 797,214.6 797.2,215.2 797.5,215.8 797.8,216.5 798,217.1 798.2,217.7 798.5,218.2 798.8,218.8 799,219.3 799.2,219.9 799.5,220.4 799.8,220.9 800,221.4 800.2,221.9 800.5,222.3 800.8,222.8 801,223.3 801.2,223.7 801.5,224.2 801.8,224.7 802,225.1 802.2,225.6 802.5,226.1 802.8,226.5 803,227 803.2,227.5 803.5,228 803.8,228.4 804,228.9 804.2,229.4 804.5,229.8 804.8,230.3 805,230.8 805.2,231.2 805.5,231.7 805.8,232.1 806,232.6 806.2,233.1 806.5,233.5 806.8,234 807,234.4 807.2,234.9 807.5,235.3 807.8,235.8 808,236.2 808.2,236.6 808.5,237.1 808.8,237.5 809,238 809.2,238.4 809.5,238.8 809.8,239.2 810,239.7 810.2,240.1 810.5,240.5 810.8,240.9 811,241.3 811.1,242.5 811.6,243.4 812.1,244.3 812.6,245.2 813.1,246.1 813.6,247 814.1,248 814.6,249 815.1,250 815.6,251.1 816.1,252.2 816.6,253.3 817.1,254.4 817.6,255.6 818.1,256.7 818.6,257.9 819.1,259 819.6,260.2 820.1,261.3 820.6,262.3 821.1,263.4 821.6,264.4 822.1,265.3 822.6,266.2 823.1,267 823.6,267.9 824.1,268.7 824.6,269.5 825.1,270.3 825.6,271.1 826.1,271.8 826.6,272.6 827.1,273.4 827.6,274.2 828.1,275 828.5,275.9 829,276.7 829.5,277.6 830,278.5 830.5,279.4 831,280.3 831.5,281.1 832,282.1 832.5,283 833,283.9 833.5,284.8 834,285.8 834.5,286.8 835,287.7 835.5,288.7 836,289.8 836.5,290.8 837,291.8 837.5,292.9 838,294 838.5,295.1 839,296.2 839.5,297.4 840,298.6 840.5,299.8 841,301.1 841.5,302.5 842,303.9 842.5,305.5 843,307 843.5,308.7 844,310.4 844.5,312.2 845,314 845.5,315.9 846,317.8 846.2,316.6 846.5,315.4 846.8,314.1 847,312.9 847.2,311.6 847.5,310.4 847.8,309.1 848,307.8 848.2,306.5 848.5,305.2 848.8,303.9 849,302.6 849.2,301.2 849.5,299.9 849.8,298.5 850,297.1 850.2,295.8 850.5,294.4 850.8,293 851,291.6 851.2,290.2 851.5,288.8 851.8,287.4 852,286 852.2,284.5 852.5,283.1 852.8,281.6 853,280.1 853.2,278.7 853.5,277.2 853.8,275.7 854,274.1 854.2,272.6 854.5,271 854.8,269.4 855,267.8 855.2,266.2 855.5,264.6 855.8,263 856,261.3 856.2,259.6 856.5,258 856.8,256.3 857,254.6 857.2,252.8 857.5,251.1 857.8,249.3 858,247.6 858.2,245.8 858.5,243.9 858.8,242.1 859,240.2 859.2,238.2 859.5,236.3 859.8,234.3 860,232.3 860.2,230.2 860.5,228.1 860.8,225.9 861,223.7 861.2,221.5 861.5,219.3 861.8,217 862,214.7 862.2,212.3 862.5,209.9 862.8,207.4 863,204.8 863.2,202 863.5,199.2 863.8,196.3 864,193.2 864.2,190 864.5,186.6 864.8,182.6 865,178.2 865.2,173.5 865.5,168.8 865.8,164.2 866,160 866.2,156.1 866.5,152.4 866.8,148.7 867,145.2 867.2,141.7 867.5,138.2 867.8,134.9 868,131.5 868.2,128.2 868.5,124.8 868.8,121.5 869,118 869.2,114.5 869.5,111.1 869.8,107.6 870,104.2 870.2,101 870.5,98 870.8,95.2 871,92.6 871.2,90.4 871.5,88.3 871.8,86.3 872,84.4 872.2,82.7 872.5,81.2 872.8,79.8 873,78.5 873.2,77.3 873.5,76.3 873.8,75.4 874,74.6 874.2,75.3 874.5,76.2 874.7,77.3 875,78.5 875.2,79.8 875.5,81.3 875.7,83.1 876,85.2 876.2,87.2 876.5,89.3 876.7,91.3 877,93.2 877.2,95 877.5,96.9 877.7,98.7 878,100.5 878.2,102.3 878.5,104.1 878.7,105.9 879,107.7 879.2,109.5 879.5,111.3 879.7,113.1 880,114.9 880.2,116.7 880.5,118.5 880.7,120.2 881,122 881.2,123.8 881.5,125.7 881.7,127.5 882,129.4 882.2,131.3 882.5,133.2 882.7,135.1 883,137 883.2,138.9 883.5,140.8 883.7,142.7 884,144.6 884.2,146.5 884.5,148.3 884.7,150.1 885,151.8 885.2,153.5 885.5,155.1 885.7,156.7 886,158.2 886.2,159.7 886.5,161.1 886.7,162.4 887,163.6 887.2,164.8 887.5,166 887.7,167.2 888,168.3 888.2,169.4 888.5,170.5 888.7,171.6 889,172.8 889.2,173.9 889.5,175 889.7,176.1 890,177.2 890.2,178.2 890.5,179.3 890.7,180.4 891,181.4 891.2,182.5 891.5,183.5 891.7,184.5 892,185.5 892.2,186.5 892.5,187.5 892.7,188.5 893,189.5 893.2,190.4 893.5,191.4 893.7,192.3 894,193.3 894.2,194.3 894.5,195.2 894.7,196.1 895,197.1 895.2,198 895.5,198.9 895.7,199.9 896,200.8 896.2,201.7 896.5,202.6 896.7,203.4 897,204.3 897.2,205.2 897.5,206 897.7,206.8 898,207.6 898.2,208.4 898.5,209.2 898.7,210 899,210.7 899.2,211.4 899.5,212.1 899.7,212.8 900,213.5 900.2,214.2 900.5,214.9 900.7,215.6 901,216.2 901.2,216.9 901.5,217.5 901.7,218.2 902,218.8 902.2,219.4 902.5,220.1 902.7,220.7 903,221.3 903.2,221.9 903.5,222.5 903.7,223.1 904,223.7 904.2,224.2 904.5,224.8 904.7,225.4 905,226 905.2,226.5 905.5,227.1 905.7,227.6 906,228.1 906.2,228.7 906.5,229.2 906.7,229.7 907,230.3 907.2,230.8 907.5,231.3 907.7,231.8 908,232.3 908.2,232.8 908.5,233.3 908.7,233.8 909,234.2 909.2,234.7 909.5,235.2 909.7,235.6 910,236.1 910.2,236.6 910.5,237 910.7,237.5 911,237.9 911.2,238.3 911.5,238.8 911.7,239.2 912,239.6 912.2,240.1 912.5,240.5 912.7,240.9 913,241.3 913.2,241.7 913.5,242.1 913.7,242.5 914,242.9 914.2,243.3 914.5,243.7 914.7,244.1 915,244.5 915.2,244.9 915.5,245.3 915.7,245.7 916,246 916.2,246.4 916.5,246.8 916.7,247.2 917,247.5 917.2,247.9 917.5,248.3 917.7,248.6 918,249 918.2,249.3 918.5,249.7 918.7,250 919,250.4 919.2,250.7 919.5,251.1 919.7,251.4 920,251.8 920.2,252.1 920.5,252.4 920.7,252.8 921,253.1 921.2,253.4 921.5,253.8 921.7,254.1 922,254.4 922.2,254.8 922.5,255.1 922.7,255.4 923,255.7 923.2,256.1 923.5,256.4 923.7,256.7 924,257 924.2,257.3 924.5,257.7 924.7,258 925,258.3 925.2,258.6 925.5,258.9 925.7,259.2 926,259.5 926.2,259.8 926.5,260.1 926.7,260.4 927,260.7 927.2,261 927.5,261.3 927.7,261.6 928,261.9 928.2,262.2 928.5,262.5 928.7,262.8 929,263 929.2,263.3 929.5,263.6 929.7,263.9 930,264.2 930.2,264.5 930.5,264.7 930.7,265 931,265.3 931.2,265.6 931.5,265.9 931.7,266.1 932,266.4 932.2,266.7 932.5,267 932.7,267.2 933,267.5 933.2,267.8 933.5,268 933.7,268.3 934,268.6 934.2,268.8 934.5,269.1 934.7,269.4 935,269.7 935.2,269.9 935.5,270.2 935.7,270.5 936,270.7 936.2,271 936.5,271.3 936.7,271.5 937,271.8 937.2,272.1 937.5,272.3 937.7,272.6 938,272.9 938.2,273.1 938.5,273.4 938.7,273.7 939,273.9 939.2,274.2 939.5,274.5 939.7,274.7 940,275 940.2,275.2 940.5,275.5 940.7,275.8 941,276 941.2,276.3 941.5,276.5 941.7,276.8 942,277 942.2,277.3 942.5,277.6 942.7,277.8 943,278.1 943.2,278.3 943.5,278.6 943.7,278.8 944,279.1 944.2,279.3 944.5,279.6 944.7,279.8 945,280.1 945.2,280.3 945.5,280.6 945.7,280.8 946,281.1 946.2,281.3 946.5,281.6 946.7,281.8 947,282.1 947.2,282.3 947.5,282.6 947.7,282.8 948,283.1 948.2,283.3 948.5,283.5 948.7,283.8 949,284 949.2,284.3 949.5,284.5 949.7,284.8 950,285 950.2,285.3 950.5,285.5 950.7,285.8 951,286 951.2,286.3 951.5,286.5 951.7,286.7 952,287 952.2,287.2 952.5,287.5 952.7,287.7 953,288 953.2,288.2 953.5,288.5 953.7,288.7 954,289 954.2,289.2 954.5,289.5 954.7,289.7 955,290 955.2,290.2 955.5,290.5 955.7,290.7 956,291 956.2,291.2 956.5,291.5 956.7,291.7 957,292 957.2,292.2 957.5,292.5 957.7,292.7 958,292.9 958.2,293.2 958.5,293.4 958.7,293.7 959,293.9 959.2,294.2 959.5,294.4 959.7,294.7 960,294.9 960.2,295.2 960.5,295.4 960.7,295.7 961,295.9 961.2,296.2 961.5,296.4 961.7,296.7 962,296.9 962.2,297.2 962.5,297.4 962.7,297.6 963,297.9 963.2,298.1 963.5,298.4 963.7,298.6 964,298.9 964.2,299.1 964.5,299.4 964.7,299.6 965,299.9 965.2,300.1 965.5,300.4 965.7,300.6 966,300.9 966.2,301.1 966.5,301.4 966.7,301.6 967,301.9 967.2,302.1 967.5,302.4 967.7,302.6 968,302.9 968.2,303.1 968.5,303.4 968.7,303.6 969,303.9 969.2,304.1 969.5,304.4 969.7,304.6 970,304.9 970.2,305.1 970.5,305.4 970.7,305.6 971,305.9 971.2,306.1 971.5,306.4 971.7,306.6 972,306.9 972.2,307.1 972.5,307.4 972.7,307.6 973,307.9 973.2,308.1 973.5,308.4 973.7,308.6 974,308.9 974.2,309.1 974.5,309.4 974.7,309.6 975,309.9 975.2,310.2 975.5,310.4 975.7,310.7 976,310.9 976.2,311.2 976.5,311.4 976.7,311.7 977,311.9 977.2,312.2 977.5,312.4 977.7,312.7 978,312.9 978.2,313.2 978.5,313.5 978.7,313.7 979,314 979.2,314.2 979.5,314.5 979.7,314.7 980,315 980.2,315.2 980.5,315.5 980.7,315.8 981,316 981.2,316.3 981.5,316.5 981.7,316.8 982,317 982.2,317.3 982.5,317.5 982.7,317.8 983.2,317.4 983.7,316.9 984.2,316.5 984.7,316 985.2,315.6 985.7,315.1 986.2,314.6 986.7,314.1 987.2,313.6 987.7,313.1 988.2,312.6 988.7,312.1 989.2,311.5 989.7,311 990.2,310.5 990.7,309.9 991.2,309.4 991.7,308.8 992.2,308.2 992.7,307.7 993.2,307.1 993.7,306.5 994.2,305.9 994.7,305.3 995.2,304.7 995.7,304.1 996.2,303.5 996.7,302.9 997.2,302.2 997.6,301.6 998.1,301 998.6,300.3 999.1,299.7 999.6,299 1000.1,298.3 1000.6,297.7 1001.1,297 1001.6,296.3 1002.1,295.6 1002.6,294.8 1003.1,294.1 1003.6,293.4 1004.1,292.6 1004.6,291.9 1005.1,291.1 1005.6,290.3 1006.1,289.6 1006.6,288.8 1007.1,288 1007.6,287.2 1008.1,286.4 1008.6,285.5 1009.1,284.7 1009.6,283.9 1010.1,283 1010.6,282.2 1011.1,281.4 1011.6,280.5" stroke="#f510e8" stroke-width="2.1"/>
<path d="M608.8 151.4h2.7v2.7h-2.7zM609.2 151.6h2.7v2.7h-2.7zM609.6 151.7h2.7v2.7h-2.7zM610 151.9h2.7v2.7h-2.7zM610.4 152.1h2.7v2.7h-2.7zM610.8 152.2h2.7v2.7h-2.7zM611.2 152.4h2.7v2.7h-2.7zM611.6 152.6h2.7v2.7h-2.7zM612 152.7h2.7v2.7h-2.7zM612.4 152.9h2.7v2.7h-2.7zM612.8 153.1h2.7v2.7h-2.7zM613.2 153.2h2.7v2.7h-2.7zM613.6 153.4h2.7v2.7h-2.7zM614 153.6h2.7v2.7h-2.7zM614.4 153.8h2.7v2.7h-2.7zM614.8 154h2.7v2.7h-2.7zM615.2 154.1h2.7v2.7h-2.7zM615.6 154.3h2.7v2.7h-2.7zM616 154.5h2.7v2.7h-2.7zM616.4 154.7h2.7v2.7h-2.7zM616.8 154.9h2.7v2.7h-2.7zM617.2 155h2.7v2.7h-2.7zM617.6 155.2h2.7v2.7h-2.7zM618 155.4h2.7v2.7h-2.7zM618.4 155.6h2.7v2.7h-2.7zM618.8 155.8h2.7v2.7h-2.7zM619.2 156h2.7v2.7h-2.7zM619.6 156.2h2.7v2.7h-2.7zM620 156.4h2.7v2.7h-2.7zM620.4 156.6h2.7v2.7h-2.7zM620.8 156.8h2.7v2.7h-2.7zM621.2 157h2.7v2.7h-2.7zM621.6 157.2h2.7v2.7h-2.7zM622 157.4h2.7v2.7h-2.7zM622.4 157.6h2.7v2.7h-2.7zM622.8 157.8h2.7v2.7h-2.7zM623.2 158h2.7v2.7h-2.7zM623.6 158.2h2.7v2.7h-2.7zM624 158.4h2.7v2.7h-2.7zM624.4 158.6h2.7v2.7h-2.7zM624.8 158.8h2.7v2.7h-2.7zM625.2 159h2.7v2.7h-2.7zM625.6 159.2h2.7v2.7h-2.7zM626 159.4h2.7v2.7h-2.7zM626.4 159.6h2.7v2.7h-2.7zM626.8 159.8h2.7v2.7h-2.7zM627.2 160h2.7v2.7h-2.7zM627.6 160.3h2.7v2.7h-2.7zM628 160.5h2.7v2.7h-2.7zM628.4 160.7h2.7v2.7h-2.7zM628.8 160.9h2.7v2.7h-2.7zM629.2 161.1h2.7v2.7h-2.7zM629.6 161.3h2.7v2.7h-2.7zM630 161.6h2.7v2.7h-2.7zM630.4 161.8h2.7v2.7h-2.7zM630.8 162h2.7v2.7h-2.7zM631.2 162.2h2.7v2.7h-2.7zM631.6 162.5h2.7v2.7h-2.7zM632 162.7h2.7v2.7h-2.7zM632.4 162.9h2.7v2.7h-2.7zM632.8 163.1h2.7v2.7h-2.7zM633.2 163.4h2.7v2.7h-2.7zM633.6 163.6h2.7v2.7h-2.7zM634 163.8h2.7v2.7h-2.7zM634.4 164h2.7v2.7h-2.7zM634.8 164.3h2.7v2.7h-2.7zM635.2 164.5h2.7v2.7h-2.7zM635.7 164.7h2.7v2.7h-2.7zM636.1 165h2.7v2.7h-2.7zM636.5 165.2h2.7v2.7h-2.7zM636.9 165.5h2.7v2.7h-2.7zM637.3 165.7h2.7v2.7h-2.7zM637.7 165.9h2.7v2.7h-2.7zM638.1 166.2h2.7v2.7h-2.7zM638.5 166.4h2.7v2.7h-2.7zM638.9 166.6h2.7v2.7h-2.7zM639.3 166.9h2.7v2.7h-2.7zM639.7 167.1h2.7v2.7h-2.7zM640.1 167.4h2.7v2.7h-2.7zM640.5 167.6h2.7v2.7h-2.7zM640.9 167.9h2.7v2.7h-2.7zM641.3 168.1h2.7v2.7h-2.7zM641.7 168.4h2.7v2.7h-2.7zM642.1 168.6h2.7v2.7h-2.7zM642.5 168.9h2.7v2.7h-2.7zM642.9 169.1h2.7v2.7h-2.7zM643.3 169.4h2.7v2.7h-2.7zM643.7 169.6h2.7v2.7h-2.7zM644.1 169.9h2.7v2.7h-2.7zM644.5 170.1h2.7v2.7h-2.7zM644.9 170.4h2.7v2.7h-2.7zM645.3 170.6h2.7v2.7h-2.7zM645.7 170.9h2.7v2.7h-2.7zM646.1 171.1h2.7v2.7h-2.7zM646.5 171.4h2.7v2.7h-2.7zM646.9 171.6h2.7v2.7h-2.7zM647.3 171.9h2.7v2.7h-2.7zM647.7 172.2h2.7v2.7h-2.7zM648.1 172.4h2.7v2.7h-2.7zM648.5 172.7h2.7v2.7h-2.7zM648.9 172.9h2.7v2.7h-2.7zM649.3 173.2h2.7v2.7h-2.7zM649.7 173.5h2.7v2.7h-2.7zM650.1 173.7h2.7v2.7h-2.7zM650.5 174h2.7v2.7h-2.7zM650.9 174.3h2.7v2.7h-2.7zM651.3 174.5h2.7v2.7h-2.7zM651.7 174.8h2.7v2.7h-2.7zM652.1 175.1h2.7v2.7h-2.7zM652.5 175.3h2.7v2.7h-2.7zM652.9 175.6h2.7v2.7h-2.7zM653.3 175.9h2.7v2.7h-2.7zM653.7 176.2h2.7v2.7h-2.7zM654.1 176.4h2.7v2.7h-2.7zM654.5 176.7h2.7v2.7h-2.7zM654.9 177h2.7v2.7h-2.7zM655.3 177.2h2.7v2.7h-2.7zM655.7 177.5h2.7v2.7h-2.7zM656.1 177.8h2.7v2.7h-2.7zM656.5 178.1h2.7v2.7h-2.7zM656.9 178.3h2.7v2.7h-2.7zM657.3 178.6h2.7v2.7h-2.7zM657.7 178.9h2.7v2.7h-2.7zM658.1 179.2h2.7v2.7h-2.7zM658.5 179.5h2.7v2.7h-2.7zM658.9 179.7h2.7v2.7h-2.7zM659.3 180h2.7v2.7h-2.7zM659.7 180.3h2.7v2.7h-2.7zM660.1 180.6h2.7v2.7h-2.7zM660.5 180.9h2.7v2.7h-2.7zM660.9 181.1h2.7v2.7h-2.7zM661.3 181.4h2.7v2.7h-2.7zM661.7 181.7h2.7v2.7h-2.7zM662.1 182h2.7v2.7h-2.7zM662.6 182.3h2.7v2.7h-2.7zM663 182.6h2.7v2.7h-2.7zM663.4 182.9h2.7v2.7h-2.7zM663.8 183.1h2.7v2.7h-2.7zM664.2 183.4h2.7v2.7h-2.7zM664.6 183.7h2.7v2.7h-2.7zM665 184h2.7v2.7h-2.7zM665.4 184.3h2.7v2.7h-2.7zM665.8 184.6h2.7v2.7h-2.7zM666.2 184.9h2.7v2.7h-2.7zM666.6 185.2h2.7v2.7h-2.7zM667 185.5h2.7v2.7h-2.7zM667.4 185.8h2.7v2.7h-2.7zM667.8 186h2.7v2.7h-2.7zM668.2 186.3h2.7v2.7h-2.7zM668.6 186.6h2.7v2.7h-2.7zM669 186.9h2.7v2.7h-2.7zM669.4 187.2h2.7v2.7h-2.7zM669.8 187.5h2.7v2.7h-2.7zM670.2 187.8h2.7v2.7h-2.7zM670.6 188.1h2.7v2.7h-2.7zM671 188.4h2.7v2.7h-2.7zM671.4 188.7h2.7v2.7h-2.7zM671.8 189h2.7v2.7h-2.7zM672.2 189.3h2.7v2.7h-2.7zM672.6 189.6h2.7v2.7h-2.7zM673 189.9h2.7v2.7h-2.7zM673.4 190.2h2.7v2.7h-2.7zM673.8 190.5h2.7v2.7h-2.7zM674.2 190.8h2.7v2.7h-2.7zM674.6 191.1h2.7v2.7h-2.7zM675 191.4h2.7v2.7h-2.7zM675.4 191.7h2.7v2.7h-2.7zM675.8 192h2.7v2.7h-2.7zM676.2 192.3h2.7v2.7h-2.7zM676.6 192.6h2.7v2.7h-2.7zM677 192.9h2.7v2.7h-2.7zM677.4 193.2h2.7v2.7h-2.7zM677.8 193.6h2.7v2.7h-2.7zM678.2 193.9h2.7v2.7h-2.7zM678.6 194.2h2.7v2.7h-2.7zM679 194.5h2.7v2.7h-2.7zM679.4 194.8h2.7v2.7h-2.7zM679.8 195.1h2.7v2.7h-2.7zM680.2 195.4h2.7v2.7h-2.7zM680.6 195.7h2.7v2.7h-2.7zM681 196h2.7v2.7h-2.7zM681.4 196.3h2.7v2.7h-2.7zM681.8 196.6h2.7v2.7h-2.7zM682.2 197h2.7v2.7h-2.7zM682.6 197.3h2.7v2.7h-2.7zM683 197.6h2.7v2.7h-2.7zM683.4 197.9h2.7v2.7h-2.7zM683.8 198.2h2.7v2.7h-2.7zM684.2 198.5h2.7v2.7h-2.7zM684.6 198.8h2.7v2.7h-2.7zM685 199.2h2.7v2.7h-2.7zM685.4 199.5h2.7v2.7h-2.7zM685.8 199.8h2.7v2.7h-2.7zM686.2 200.1h2.7v2.7h-2.7zM686.6 200.4h2.7v2.7h-2.7zM687 200.7h2.7v2.7h-2.7zM687.4 201.1h2.7v2.7h-2.7zM687.8 201.4h2.7v2.7h-2.7zM688.2 201.7h2.7v2.7h-2.7zM688.6 202h2.7v2.7h-2.7zM689.1 202.3h2.7v2.7h-2.7zM689.5 202.7h2.7v2.7h-2.7zM689.9 203h2.7v2.7h-2.7zM690.3 203.3h2.7v2.7h-2.7zM690.7 203.6h2.7v2.7h-2.7zM691.1 204h2.7v2.7h-2.7zM691.5 204.3h2.7v2.7h-2.7zM691.9 204.6h2.7v2.7h-2.7zM692.3 204.9h2.7v2.7h-2.7zM692.7 205.3h2.7v2.7h-2.7zM693.1 205.6h2.7v2.7h-2.7zM693.5 205.9h2.7v2.7h-2.7zM693.9 206.2h2.7v2.7h-2.7zM694.3 206.6h2.7v2.7h-2.7zM694.7 206.9h2.7v2.7h-2.7zM695.1 207.2h2.7v2.7h-2.7zM695.5 207.5h2.7v2.7h-2.7zM695.9 207.9h2.7v2.7h-2.7zM696.3 208.2h2.7v2.7h-2.7zM696.7 208.5h2.7v2.7h-2.7zM697.1 208.9h2.7v2.7h-2.7zM697.5 209.2h2.7v2.7h-2.7zM697.9 209.5h2.7v2.7h-2.7zM698.3 209.9h2.7v2.7h-2.7zM698.7 210.2h2.7v2.7h-2.7zM699.1 210.5h2.7v2.7h-2.7zM699.5 210.9h2.7v2.7h-2.7zM699.9 211.2h2.7v2.7h-2.7zM700.3 211.6h2.7v2.7h-2.7zM700.7 211.9h2.7v2.7h-2.7zM701.1 212.2h2.7v2.7h-2.7zM701.5 212.6h2.7v2.7h-2.7zM701.9 212.9h2.7v2.7h-2.7zM702.3 213.2h2.7v2.7h-2.7zM702.7 213.6h2.7v2.7h-2.7zM703.1 213.9h2.7v2.7h-2.7zM703.5 214.3h2.7v2.7h-2.7zM703.9 214.6h2.7v2.7h-2.7zM704.3 215h2.7v2.7h-2.7zM704.7 215.3h2.7v2.7h-2.7zM705.1 215.7h2.7v2.7h-2.7zM705.5 216h2.7v2.7h-2.7zM705.9 216.4h2.7v2.7h-2.7zM706.3 216.7h2.7v2.7h-2.7zM706.7 217.1h2.7v2.7h-2.7zM707.1 217.4h2.7v2.7h-2.7zM707.5 217.8h2.7v2.7h-2.7zM707.9 218.1h2.7v2.7h-2.7zM708.3 218.5h2.7v2.7h-2.7zM708.7 218.8h2.7v2.7h-2.7zM709.1 219.2h2.7v2.7h-2.7zM709.5 219.5h2.7v2.7h-2.7zM709.9 219.9h2.7v2.7h-2.7zM710.3 220.3h2.7v2.7h-2.7zM710.7 220.6h2.7v2.7h-2.7zM711.1 221h2.7v2.7h-2.7zM711.5 221.3h2.7v2.7h-2.7zM711.9 221.7h2.7v2.7h-2.7zM712.3 222.1h2.7v2.7h-2.7zM712.7 222.4h2.7v2.7h-2.7zM713.1 222.8h2.7v2.7h-2.7zM713.5 223.2h2.7v2.7h-2.7zM713.9 223.5h2.7v2.7h-2.7zM714.3 223.9h2.7v2.7h-2.7zM714.7 224.3h2.7v2.7h-2.7zM715.1 224.7h2.7v2.7h-2.7zM715.5 225h2.7v2.7h-2.7zM716 225.4h2.7v2.7h-2.7zM716.4 225.8h2.7v2.7h-2.7zM716.8 226.2h2.7v2.7h-2.7zM717.2 226.6h2.7v2.7h-2.7zM717.6 226.9h2.7v2.7h-2.7zM718 227.3h2.7v2.7h-2.7zM718.4 227.7h2.7v2.7h-2.7zM718.8 228.1h2.7v2.7h-2.7zM719.2 228.5h2.7v2.7h-2.7zM719.6 228.9h2.7v2.7h-2.7zM720 229.3h2.7v2.7h-2.7zM720.4 229.7h2.7v2.7h-2.7zM720.8 230.1h2.7v2.7h-2.7zM721.2 230.5h2.7v2.7h-2.7zM721.6 230.9h2.7v2.7h-2.7zM722 231.3h2.7v2.7h-2.7zM722.4 231.7h2.7v2.7h-2.7zM722.8 232.1h2.7v2.7h-2.7zM723.2 232.5h2.7v2.7h-2.7zM723.6 232.9h2.7v2.7h-2.7zM724 233.3h2.7v2.7h-2.7zM724.4 233.8h2.7v2.7h-2.7zM724.8 234.2h2.7v2.7h-2.7zM725.2 234.6h2.7v2.7h-2.7zM725.6 235h2.7v2.7h-2.7zM726 235.5h2.7v2.7h-2.7zM726.4 235.9h2.7v2.7h-2.7zM726.8 236.3h2.7v2.7h-2.7zM727.2 236.8h2.7v2.7h-2.7zM727.6 237.2h2.7v2.7h-2.7zM728 237.7h2.7v2.7h-2.7zM728.4 238.1h2.7v2.7h-2.7zM728.8 238.6h2.7v2.7h-2.7zM729.2 239h2.7v2.7h-2.7zM729.6 239.5h2.7v2.7h-2.7zM730 240h2.7v2.7h-2.7zM730.4 240.4h2.7v2.7h-2.7zM730.8 240.9h2.7v2.7h-2.7zM731.2 241.4h2.7v2.7h-2.7zM731.6 241.9h2.7v2.7h-2.7zM732 242.3h2.7v2.7h-2.7zM732.4 242.8h2.7v2.7h-2.7zM732.8 243.3h2.7v2.7h-2.7zM733.2 243.8h2.7v2.7h-2.7zM733.6 244.3h2.7v2.7h-2.7zM734 244.9h2.7v2.7h-2.7zM734.4 245.4h2.7v2.7h-2.7zM734.8 245.9h2.7v2.7h-2.7zM735.2 246.4h2.7v2.7h-2.7zM735.6 247h2.7v2.7h-2.7zM736 247.5h2.7v2.7h-2.7zM736.4 248.1h2.7v2.7h-2.7zM736.8 248.6h2.7v2.7h-2.7zM737.2 249.2h2.7v2.7h-2.7zM737.6 249.7h2.7v2.7h-2.7zM738 250.3h2.7v2.7h-2.7zM738.4 250.9h2.7v2.7h-2.7zM738.8 251.5h2.7v2.7h-2.7zM739.2 252.1h2.7v2.7h-2.7zM739.6 252.7h2.7v2.7h-2.7zM740 253.3h2.7v2.7h-2.7zM740.4 254h2.7v2.7h-2.7zM740.8 254.6h2.7v2.7h-2.7zM741.2 255.2h2.7v2.7h-2.7zM741.6 255.9h2.7v2.7h-2.7zM742 256.6h2.7v2.7h-2.7zM742.4 257.3h2.7v2.7h-2.7zM742.9 258h2.7v2.7h-2.7zM743.3 258.7h2.7v2.7h-2.7zM743.7 259.4h2.7v2.7h-2.7zM744.1 260.1h2.7v2.7h-2.7zM744.5 260.9h2.7v2.7h-2.7zM744.9 261.6h2.7v2.7h-2.7zM745.3 262.4h2.7v2.7h-2.7zM745.7 263.2h2.7v2.7h-2.7zM746.1 264h2.7v2.7h-2.7zM746.5 264.9h2.7v2.7h-2.7zM746.9 265.7h2.7v2.7h-2.7zM747.3 266.6h2.7v2.7h-2.7zM747.7 267.5h2.7v2.7h-2.7zM748.1 268.4h2.7v2.7h-2.7zM748.5 269.4h2.7v2.7h-2.7zM748.9 270.3h2.7v2.7h-2.7zM749.3 271.3h2.7v2.7h-2.7zM749.7 272.3h2.7v2.7h-2.7zM750.1 273.4h2.7v2.7h-2.7zM750.5 274.4h2.7v2.7h-2.7zM750.9 275.5h2.7v2.7h-2.7zM751.3 276.7h2.7v2.7h-2.7zM751.7 277.9h2.7v2.7h-2.7zM752.1 279.1h2.7v2.7h-2.7zM752.5 280.3h2.7v2.7h-2.7zM752.9 281.6h2.7v2.7h-2.7zM753.3 283h2.7v2.7h-2.7zM753.7 284.4h2.7v2.7h-2.7zM754.1 285.8h2.7v2.7h-2.7zM754.5 287.3h2.7v2.7h-2.7zM754.9 288.8h2.7v2.7h-2.7zM755.3 290.4h2.7v2.7h-2.7zM755.7 292.1h2.7v2.7h-2.7zM756.1 293.9h2.7v2.7h-2.7zM756.5 295.7h2.7v2.7h-2.7zM756.9 297.6h2.7v2.7h-2.7zM757.3 299.6h2.7v2.7h-2.7zM757.7 301.7h2.7v2.7h-2.7zM758.1 303.9h2.7v2.7h-2.7zM758.5 306.1h2.7v2.7h-2.7zM758.9 308.6h2.7v2.7h-2.7zM759.3 311.1h2.7v2.7h-2.7zM759.7 313.8h2.7v2.7h-2.7zM760.1 316.6h2.7v2.7h-2.7zM760.5 314.2h2.7v2.7h-2.7zM760.9 311.7h2.7v2.7h-2.7zM761.3 309h2.7v2.7h-2.7zM761.7 306.1h2.7v2.7h-2.7zM762.1 303h2.7v2.7h-2.7zM762.5 299.8h2.7v2.7h-2.7zM762.9 296.4h2.7v2.7h-2.7zM763.3 292.8h2.7v2.7h-2.7zM763.7 288.8h2.7v2.7h-2.7zM764.1 284.6h2.7v2.7h-2.7zM764.5 280.1h2.7v2.7h-2.7zM764.9 275.3h2.7v2.7h-2.7zM765.3 270.1h2.7v2.7h-2.7zM765.7 264.4h2.7v2.7h-2.7zM766.1 258h2.7v2.7h-2.7zM766.5 250.9h2.7v2.7h-2.7zM766.9 242.5h2.7v2.7h-2.7zM767.3 233.3h2.7v2.7h-2.7zM767.7 223.4h2.7v2.7h-2.7zM768.1 212.5h2.7v2.7h-2.7zM768.5 200.3h2.7v2.7h-2.7zM768.9 187.7h2.7v2.7h-2.7zM769.4 175.4h2.7v2.7h-2.7zM769.8 162.9h2.7v2.7h-2.7zM770.2 150.9h2.7v2.7h-2.7zM770.6 140.8h2.7v2.7h-2.7zM771 132.7h2.7v2.7h-2.7zM771.4 123.9h2.7v2.7h-2.7zM771.8 110h2.7v2.7h-2.7zM772.2 96.5h2.7v2.7h-2.7zM772.6 90.2h2.7v2.7h-2.7zM773 85.9h2.7v2.7h-2.7zM773.4 82.8h2.7v2.7h-2.7zM773.8 80.2h2.7v2.7h-2.7zM774.2 78.2h2.7v2.7h-2.7zM774.6 77.2h2.7v2.7h-2.7zM775 78.5h2.7v2.7h-2.7zM775.4 80.1h2.7v2.7h-2.7zM775.8 82.1h2.7v2.7h-2.7zM776.2 84.4h2.7v2.7h-2.7zM776.6 87h2.7v2.7h-2.7zM777 90h2.7v2.7h-2.7zM777.4 93.6h2.7v2.7h-2.7zM777.8 97.9h2.7v2.7h-2.7zM778.2 104h2.7v2.7h-2.7zM778.6 112.2h2.7v2.7h-2.7zM779 119.1h2.7v2.7h-2.7zM779.4 124.3h2.7v2.7h-2.7zM779.8 129h2.7v2.7h-2.7zM780.2 133.4h2.7v2.7h-2.7zM780.6 137.4h2.7v2.7h-2.7zM781 141.1h2.7v2.7h-2.7zM781.4 144.6h2.7v2.7h-2.7zM781.8 147.9h2.7v2.7h-2.7zM782.2 151.1h2.7v2.7h-2.7zM782.6 154h2.7v2.7h-2.7zM783 156.9h2.7v2.7h-2.7zM783.4 159.6h2.7v2.7h-2.7zM783.8 162.2h2.7v2.7h-2.7zM784.2 164.7h2.7v2.7h-2.7zM784.6 167.1h2.7v2.7h-2.7zM785 169.4h2.7v2.7h-2.7zM785.4 171.7h2.7v2.7h-2.7zM785.8 173.8h2.7v2.7h-2.7zM786.2 175.9h2.7v2.7h-2.7zM786.6 178h2.7v2.7h-2.7zM787 180h2.7v2.7h-2.7zM787.4 182h2.7v2.7h-2.7zM787.8 184h2.7v2.7h-2.7zM788.2 185.9h2.7v2.7h-2.7zM788.6 187.8h2.7v2.7h-2.7zM789 189.7h2.7v2.7h-2.7zM789.4 191.5h2.7v2.7h-2.7zM789.8 193.3h2.7v2.7h-2.7zM790.2 195h2.7v2.7h-2.7zM790.6 196.7h2.7v2.7h-2.7zM791 198.3h2.7v2.7h-2.7zM791.4 199.9h2.7v2.7h-2.7zM791.8 201.4h2.7v2.7h-2.7zM792.2 202.9h2.7v2.7h-2.7zM792.6 204.2h2.7v2.7h-2.7zM793 205.6h2.7v2.7h-2.7zM793.4 206.9h2.7v2.7h-2.7zM793.8 208.1h2.7v2.7h-2.7zM794.2 209.3h2.7v2.7h-2.7zM794.6 210.5h2.7v2.7h-2.7zM795 211.6h2.7v2.7h-2.7zM795.4 212.7h2.7v2.7h-2.7zM795.8 213.7h2.7v2.7h-2.7zM796.3 214.7h2.7v2.7h-2.7zM796.7 215.7h2.7v2.7h-2.7zM797.1 216.7h2.7v2.7h-2.7zM797.5 217.6h2.7v2.7h-2.7zM797.9 218.4h2.7v2.7h-2.7zM798.3 219.2h2.7v2.7h-2.7zM798.7 220h2.7v2.7h-2.7zM799.1 220.8h2.7v2.7h-2.7zM799.5 221.6h2.7v2.7h-2.7zM799.9 222.3h2.7v2.7h-2.7zM800.3 223.1h2.7v2.7h-2.7zM800.7 223.8h2.7v2.7h-2.7zM801.1 224.6h2.7v2.7h-2.7zM801.5 225.3h2.7v2.7h-2.7zM801.9 226.1h2.7v2.7h-2.7zM802.3 226.8h2.7v2.7h-2.7zM802.7 227.6h2.7v2.7h-2.7zM803.1 228.3h2.7v2.7h-2.7zM803.5 229.1h2.7v2.7h-2.7zM803.9 229.8h2.7v2.7h-2.7zM804.3 230.6h2.7v2.7h-2.7zM804.7 231.3h2.7v2.7h-2.7zM805.1 232h2.7v2.7h-2.7zM805.5 232.8h2.7v2.7h-2.7zM805.9 233.5h2.7v2.7h-2.7zM806.3 234.2h2.7v2.7h-2.7zM806.7 234.9h2.7v2.7h-2.7zM807.1 235.6h2.7v2.7h-2.7zM807.5 236.3h2.7v2.7h-2.7zM807.9 237h2.7v2.7h-2.7zM808.3 237.7h2.7v2.7h-2.7zM808.7 238.4h2.7v2.7h-2.7zM809.1 239.1h2.7v2.7h-2.7zM809.5 239.7h2.7v2.7h-2.7zM809.9 240.4h2.7v2.7h-2.7zM810.3 241.1h2.7v2.7h-2.7zM810.7 241.7h2.7v2.7h-2.7zM811.1 242.4h2.7v2.7h-2.7zM811.5 243h2.7v2.7h-2.7zM811.9 243.6h2.7v2.7h-2.7zM812.3 244.3h2.7v2.7h-2.7zM812.7 244.9h2.7v2.7h-2.7zM813.1 245.5h2.7v2.7h-2.7zM813.5 246.2h2.7v2.7h-2.7zM813.9 246.8h2.7v2.7h-2.7zM814.3 247.4h2.7v2.7h-2.7zM814.7 248h2.7v2.7h-2.7zM815.1 248.6h2.7v2.7h-2.7zM815.5 249.2h2.7v2.7h-2.7zM815.9 249.8h2.7v2.7h-2.7zM816.3 250.4h2.7v2.7h-2.7zM816.7 250.9h2.7v2.7h-2.7zM817.1 251.5h2.7v2.7h-2.7zM817.5 252.1h2.7v2.7h-2.7zM817.9 252.6h2.7v2.7h-2.7zM818.3 253.2h2.7v2.7h-2.7zM818.7 253.7h2.7v2.7h-2.7zM819.1 254.2h2.7v2.7h-2.7zM819.5 254.8h2.7v2.7h-2.7zM819.9 255.3h2.7v2.7h-2.7zM820.3 255.8h2.7v2.7h-2.7zM820.7 256.3h2.7v2.7h-2.7zM821.1 256.8h2.7v2.7h-2.7zM821.5 257.3h2.7v2.7h-2.7zM821.9 257.8h2.7v2.7h-2.7zM822.3 258.2h2.7v2.7h-2.7zM822.7 258.7h2.7v2.7h-2.7zM823.2 259.2h2.7v2.7h-2.7zM823.6 259.7h2.7v2.7h-2.7zM824 260.1h2.7v2.7h-2.7zM824.4 260.6h2.7v2.7h-2.7zM824.8 261.1h2.7v2.7h-2.7zM825.2 261.5h2.7v2.7h-2.7zM825.6 262h2.7v2.7h-2.7zM826 262.5h2.7v2.7h-2.7zM826.4 262.9h2.7v2.7h-2.7zM826.8 263.4h2.7v2.7h-2.7zM827.2 263.8h2.7v2.7h-2.7zM827.6 264.3h2.7v2.7h-2.7zM828 264.7h2.7v2.7h-2.7zM828.4 265.2h2.7v2.7h-2.7zM828.8 265.6h2.7v2.7h-2.7zM829.2 266.1h2.7v2.7h-2.7zM829.6 266.5h2.7v2.7h-2.7zM830 267h2.7v2.7h-2.7zM830.4 267.4h2.7v2.7h-2.7zM830.8 267.9h2.7v2.7h-2.7zM831.2 268.3h2.7v2.7h-2.7zM831.6 268.7h2.7v2.7h-2.7zM832 269.2h2.7v2.7h-2.7zM832.4 269.6h2.7v2.7h-2.7zM832.8 270h2.7v2.7h-2.7zM833.2 270.4h2.7v2.7h-2.7zM833.6 270.9h2.7v2.7h-2.7zM834 271.3h2.7v2.7h-2.7zM834.4 271.7h2.7v2.7h-2.7zM834.8 272.1h2.7v2.7h-2.7zM835.2 272.6h2.7v2.7h-2.7zM835.6 273h2.7v2.7h-2.7zM836 273.4h2.7v2.7h-2.7zM836.4 273.8h2.7v2.7h-2.7zM836.8 274.2h2.7v2.7h-2.7zM837.2 274.7h2.7v2.7h-2.7zM837.6 275.1h2.7v2.7h-2.7zM838 275.5h2.7v2.7h-2.7zM838.4 275.9h2.7v2.7h-2.7zM838.8 276.3h2.7v2.7h-2.7zM839.2 276.8h2.7v2.7h-2.7zM839.6 277.2h2.7v2.7h-2.7zM840 277.6h2.7v2.7h-2.7zM840.4 278h2.7v2.7h-2.7zM840.8 278.4h2.7v2.7h-2.7zM841.2 278.8h2.7v2.7h-2.7zM841.6 279.2h2.7v2.7h-2.7zM842 279.6h2.7v2.7h-2.7zM842.4 280.1h2.7v2.7h-2.7zM842.8 280.5h2.7v2.7h-2.7zM843.2 280.9h2.7v2.7h-2.7zM843.6 281.3h2.7v2.7h-2.7zM844 281.7h2.7v2.7h-2.7zM844.4 282.1h2.7v2.7h-2.7zM844.8 282.5h2.7v2.7h-2.7zM845.2 282.9h2.7v2.7h-2.7zM845.6 283.3h2.7v2.7h-2.7zM846 283.7h2.7v2.7h-2.7zM846.4 284.1h2.7v2.7h-2.7zM846.8 284.5h2.7v2.7h-2.7zM847.2 284.9h2.7v2.7h-2.7zM847.6 285.3h2.7v2.7h-2.7zM848 285.7h2.7v2.7h-2.7zM848.4 286.1h2.7v2.7h-2.7zM848.8 286.4h2.7v2.7h-2.7zM849.2 286.8h2.7v2.7h-2.7zM849.6 287.2h2.7v2.7h-2.7zM850.1 287.6h2.7v2.7h-2.7zM850.5 288h2.7v2.7h-2.7zM850.9 288.4h2.7v2.7h-2.7zM851.3 288.8h2.7v2.7h-2.7zM851.7 289.2h2.7v2.7h-2.7zM852.1 289.5h2.7v2.7h-2.7zM852.5 289.9h2.7v2.7h-2.7zM852.9 290.3h2.7v2.7h-2.7zM853.3 290.7h2.7v2.7h-2.7zM853.7 291.1h2.7v2.7h-2.7zM854.1 291.4h2.7v2.7h-2.7zM854.5 291.8h2.7v2.7h-2.7zM854.9 292.2h2.7v2.7h-2.7zM855.3 292.6h2.7v2.7h-2.7zM855.7 292.9h2.7v2.7h-2.7zM856.1 293.3h2.7v2.7h-2.7zM856.5 293.7h2.7v2.7h-2.7zM856.9 294.1h2.7v2.7h-2.7zM857.3 294.4h2.7v2.7h-2.7zM857.7 294.8h2.7v2.7h-2.7zM858.1 295.2h2.7v2.7h-2.7zM858.5 295.5h2.7v2.7h-2.7zM858.9 295.9h2.7v2.7h-2.7zM859.3 296.3h2.7v2.7h-2.7zM859.7 296.6h2.7v2.7h-2.7zM860.1 297h2.7v2.7h-2.7zM860.5 297.4h2.7v2.7h-2.7zM860.9 297.7h2.7v2.7h-2.7zM861.3 298.1h2.7v2.7h-2.7zM861.7 298.5h2.7v2.7h-2.7zM862.1 298.8h2.7v2.7h-2.7zM862.5 299.2h2.7v2.7h-2.7zM862.9 299.5h2.7v2.7h-2.7zM863.3 299.9h2.7v2.7h-2.7zM863.7 300.2h2.7v2.7h-2.7zM864.1 300.6h2.7v2.7h-2.7zM864.5 300.9h2.7v2.7h-2.7zM864.9 301.3h2.7v2.7h-2.7zM865.3 301.6h2.7v2.7h-2.7zM865.7 302h2.7v2.7h-2.7zM866.1 302.3h2.7v2.7h-2.7zM866.5 302.7h2.7v2.7h-2.7zM866.9 303h2.7v2.7h-2.7zM867.3 303.4h2.7v2.7h-2.7zM867.7 303.7h2.7v2.7h-2.7zM868.1 304.1h2.7v2.7h-2.7zM868.5 304.4h2.7v2.7h-2.7zM868.9 304.7h2.7v2.7h-2.7zM869.3 305.1h2.7v2.7h-2.7zM869.7 305.4h2.7v2.7h-2.7zM870.1 305.8h2.7v2.7h-2.7zM870.5 306.1h2.7v2.7h-2.7zM870.9 306.4h2.7v2.7h-2.7zM871.3 306.8h2.7v2.7h-2.7zM871.7 307.1h2.7v2.7h-2.7zM872.1 307.5h2.7v2.7h-2.7zM872.5 307.8h2.7v2.7h-2.7zM872.9 308.1h2.7v2.7h-2.7zM873.3 308.5h2.7v2.7h-2.7zM873.7 308.8h2.7v2.7h-2.7zM874.1 309.1h2.7v2.7h-2.7zM874.5 309.5h2.7v2.7h-2.7zM874.9 309.8h2.7v2.7h-2.7zM875.3 310.1h2.7v2.7h-2.7zM875.7 310.4h2.7v2.7h-2.7zM876.1 310.8h2.7v2.7h-2.7zM876.6 311.1h2.7v2.7h-2.7zM877 311.4h2.7v2.7h-2.7zM877.4 311.7h2.7v2.7h-2.7zM877.8 312.1h2.7v2.7h-2.7zM878.2 312.4h2.7v2.7h-2.7zM878.6 312.7h2.7v2.7h-2.7zM879 313h2.7v2.7h-2.7zM879.4 313.4h2.7v2.7h-2.7zM879.8 313.7h2.7v2.7h-2.7zM880.2 314h2.7v2.7h-2.7zM880.6 314.3h2.7v2.7h-2.7zM881 314.6h2.7v2.7h-2.7zM881.4 314.9h2.7v2.7h-2.7zM881.8 315.3h2.7v2.7h-2.7zM882.2 315.6h2.7v2.7h-2.7zM882.6 315.9h2.7v2.7h-2.7zM883 316.2h2.7v2.7h-2.7zM883.4 316.6h2.7v2.7h-2.7zM883.8 316.2h2.7v2.7h-2.7zM884.2 315.8h2.7v2.7h-2.7zM884.6 315.5h2.7v2.7h-2.7zM885 315.1h2.7v2.7h-2.7zM885.4 314.7h2.7v2.7h-2.7zM885.8 314.4h2.7v2.7h-2.7zM886.2 314h2.7v2.7h-2.7zM886.6 313.6h2.7v2.7h-2.7zM887 313.3h2.7v2.7h-2.7zM887.4 312.9h2.7v2.7h-2.7zM887.8 312.6h2.7v2.7h-2.7zM888.2 312.2h2.7v2.7h-2.7zM888.6 311.8h2.7v2.7h-2.7zM889 311.5h2.7v2.7h-2.7zM889.4 311.1h2.7v2.7h-2.7zM889.8 310.8h2.7v2.7h-2.7zM890.2 310.4h2.7v2.7h-2.7zM890.6 310.1h2.7v2.7h-2.7zM891 309.7h2.7v2.7h-2.7zM891.4 309.3h2.7v2.7h-2.7zM891.8 309h2.7v2.7h-2.7zM892.2 308.6h2.7v2.7h-2.7zM892.6 308.3h2.7v2.7h-2.7zM893 307.9h2.7v2.7h-2.7zM893.4 307.6h2.7v2.7h-2.7zM893.8 307.2h2.7v2.7h-2.7zM894.2 306.9h2.7v2.7h-2.7zM894.6 306.5h2.7v2.7h-2.7zM895 306.2h2.7v2.7h-2.7zM895.4 305.8h2.7v2.7h-2.7zM895.8 305.5h2.7v2.7h-2.7zM896.2 305.1h2.7v2.7h-2.7zM896.6 304.8h2.7v2.7h-2.7zM897 304.4h2.7v2.7h-2.7zM897.4 304.1h2.7v2.7h-2.7zM897.8 303.8h2.7v2.7h-2.7zM898.2 303.4h2.7v2.7h-2.7zM898.6 303.1h2.7v2.7h-2.7zM899 302.7h2.7v2.7h-2.7zM899.4 302.4h2.7v2.7h-2.7zM899.8 302h2.7v2.7h-2.7zM900.2 301.7h2.7v2.7h-2.7zM900.6 301.3h2.7v2.7h-2.7zM901 301h2.7v2.7h-2.7zM901.4 300.7h2.7v2.7h-2.7zM901.8 300.3h2.7v2.7h-2.7zM902.2 300h2.7v2.7h-2.7zM902.6 299.6h2.7v2.7h-2.7zM903 299.3h2.7v2.7h-2.7zM903.5 299h2.7v2.7h-2.7zM903.9 298.6h2.7v2.7h-2.7zM904.3 298.3h2.7v2.7h-2.7zM904.7 297.9h2.7v2.7h-2.7zM905.1 297.6h2.7v2.7h-2.7zM905.5 297.3h2.7v2.7h-2.7zM905.9 296.9h2.7v2.7h-2.7zM906.3 296.6h2.7v2.7h-2.7zM906.7 296.3h2.7v2.7h-2.7zM907.1 295.9h2.7v2.7h-2.7zM907.5 295.6h2.7v2.7h-2.7zM907.9 295.2h2.7v2.7h-2.7zM908.3 294.9h2.7v2.7h-2.7zM908.7 294.6h2.7v2.7h-2.7zM909.1 294.2h2.7v2.7h-2.7zM909.5 293.9h2.7v2.7h-2.7zM909.9 293.6h2.7v2.7h-2.7zM910.3 293.2h2.7v2.7h-2.7zM910.7 292.9h2.7v2.7h-2.7zM911.1 292.6h2.7v2.7h-2.7zM911.5 292.2h2.7v2.7h-2.7zM911.9 291.9h2.7v2.7h-2.7zM912.3 291.6h2.7v2.7h-2.7zM912.7 291.2h2.7v2.7h-2.7zM913.1 290.9h2.7v2.7h-2.7zM913.5 290.6h2.7v2.7h-2.7zM913.9 290.2h2.7v2.7h-2.7zM914.3 289.9h2.7v2.7h-2.7zM914.7 289.6h2.7v2.7h-2.7zM915.1 289.2h2.7v2.7h-2.7zM915.5 288.9h2.7v2.7h-2.7zM915.9 288.6h2.7v2.7h-2.7zM916.3 288.2h2.7v2.7h-2.7zM916.7 287.9h2.7v2.7h-2.7zM917.1 287.6h2.7v2.7h-2.7zM917.5 287.2h2.7v2.7h-2.7zM917.9 286.9h2.7v2.7h-2.7zM918.3 286.6h2.7v2.7h-2.7zM918.7 286.3h2.7v2.7h-2.7zM919.1 285.9h2.7v2.7h-2.7zM919.5 285.6h2.7v2.7h-2.7zM919.9 285.3h2.7v2.7h-2.7zM920.3 284.9h2.7v2.7h-2.7zM920.7 284.6h2.7v2.7h-2.7zM921.1 284.3h2.7v2.7h-2.7zM921.5 283.9h2.7v2.7h-2.7zM921.9 283.6h2.7v2.7h-2.7zM922.3 283.3h2.7v2.7h-2.7zM922.7 283h2.7v2.7h-2.7zM923.1 282.6h2.7v2.7h-2.7zM923.5 282.3h2.7v2.7h-2.7zM923.9 282h2.7v2.7h-2.7zM924.3 281.6h2.7v2.7h-2.7zM924.7 281.3h2.7v2.7h-2.7zM925.1 281h2.7v2.7h-2.7zM925.5 280.7h2.7v2.7h-2.7zM925.9 280.3h2.7v2.7h-2.7zM926.3 280h2.7v2.7h-2.7zM926.7 279.7h2.7v2.7h-2.7zM927.1 279.3h2.7v2.7h-2.7zM927.5 279h2.7v2.7h-2.7zM927.9 278.7h2.7v2.7h-2.7zM928.3 278.4h2.7v2.7h-2.7zM928.7 278h2.7v2.7h-2.7zM929.1 277.7h2.7v2.7h-2.7zM929.5 277.4h2.7v2.7h-2.7zM930 277h2.7v2.7h-2.7zM930.4 276.7h2.7v2.7h-2.7zM930.8 276.4h2.7v2.7h-2.7zM931.2 276h2.7v2.7h-2.7zM931.6 275.7h2.7v2.7h-2.7zM932 275.4h2.7v2.7h-2.7zM932.4 275.1h2.7v2.7h-2.7zM932.8 274.7h2.7v2.7h-2.7zM933.2 274.4h2.7v2.7h-2.7zM933.6 274.1h2.7v2.7h-2.7zM934 273.7h2.7v2.7h-2.7zM934.4 273.4h2.7v2.7h-2.7zM934.8 273.1h2.7v2.7h-2.7zM935.2 272.8h2.7v2.7h-2.7zM935.6 272.4h2.7v2.7h-2.7zM936 272.1h2.7v2.7h-2.7zM936.4 271.8h2.7v2.7h-2.7zM936.8 271.4h2.7v2.7h-2.7zM937.2 271.1h2.7v2.7h-2.7zM937.6 270.8h2.7v2.7h-2.7zM938 270.4h2.7v2.7h-2.7zM938.4 270.1h2.7v2.7h-2.7zM938.8 269.8h2.7v2.7h-2.7zM939.2 269.5h2.7v2.7h-2.7zM939.6 269.1h2.7v2.7h-2.7zM940 268.8h2.7v2.7h-2.7zM940.4 268.5h2.7v2.7h-2.7zM940.8 268.1h2.7v2.7h-2.7zM941.2 267.8h2.7v2.7h-2.7zM941.6 267.5h2.7v2.7h-2.7zM942 267.1h2.7v2.7h-2.7zM942.4 266.8h2.7v2.7h-2.7zM942.8 266.5h2.7v2.7h-2.7zM943.2 266.1h2.7v2.7h-2.7zM943.6 265.8h2.7v2.7h-2.7zM944 265.5h2.7v2.7h-2.7zM944.4 265.1h2.7v2.7h-2.7zM944.8 264.8h2.7v2.7h-2.7zM945.2 264.5h2.7v2.7h-2.7zM945.6 264.1h2.7v2.7h-2.7zM946 263.8h2.7v2.7h-2.7zM946.4 263.5h2.7v2.7h-2.7zM946.8 263.1h2.7v2.7h-2.7zM947.2 262.8h2.7v2.7h-2.7zM947.6 262.5h2.7v2.7h-2.7zM948 262.1h2.7v2.7h-2.7zM948.4 261.8h2.7v2.7h-2.7zM948.8 261.5h2.7v2.7h-2.7zM949.2 261.1h2.7v2.7h-2.7zM949.6 260.8h2.7v2.7h-2.7zM950 260.5h2.7v2.7h-2.7zM950.4 260.1h2.7v2.7h-2.7zM950.8 259.8h2.7v2.7h-2.7zM951.2 259.4h2.7v2.7h-2.7zM951.6 259.1h2.7v2.7h-2.7zM952 258.8h2.7v2.7h-2.7zM952.4 258.4h2.7v2.7h-2.7zM952.8 258.1h2.7v2.7h-2.7zM953.2 257.8h2.7v2.7h-2.7zM953.6 257.4h2.7v2.7h-2.7zM954 257.1h2.7v2.7h-2.7zM954.4 256.7h2.7v2.7h-2.7zM954.8 256.4h2.7v2.7h-2.7zM955.2 256.1h2.7v2.7h-2.7zM955.6 255.7h2.7v2.7h-2.7zM956 255.4h2.7v2.7h-2.7zM956.4 255h2.7v2.7h-2.7zM956.9 254.7h2.7v2.7h-2.7zM957.3 254.3h2.7v2.7h-2.7zM957.7 254h2.7v2.7h-2.7zM958.1 253.7h2.7v2.7h-2.7zM958.5 253.3h2.7v2.7h-2.7zM958.9 253h2.7v2.7h-2.7zM959.3 252.6h2.7v2.7h-2.7zM959.7 252.3h2.7v2.7h-2.7zM960.1 251.9h2.7v2.7h-2.7zM960.5 251.6h2.7v2.7h-2.7zM960.9 251.3h2.7v2.7h-2.7zM961.3 250.9h2.7v2.7h-2.7zM961.7 250.6h2.7v2.7h-2.7zM962.1 250.2h2.7v2.7h-2.7zM962.5 249.9h2.7v2.7h-2.7zM962.9 249.5h2.7v2.7h-2.7zM963.3 249.2h2.7v2.7h-2.7zM963.7 248.8h2.7v2.7h-2.7zM964.1 248.5h2.7v2.7h-2.7zM964.5 248.1h2.7v2.7h-2.7zM964.9 247.8h2.7v2.7h-2.7zM965.3 247.4h2.7v2.7h-2.7zM965.7 247.1h2.7v2.7h-2.7zM966.1 246.7h2.7v2.7h-2.7zM966.5 246.4h2.7v2.7h-2.7zM966.9 246h2.7v2.7h-2.7zM967.3 245.7h2.7v2.7h-2.7zM967.7 245.3h2.7v2.7h-2.7zM968.1 245h2.7v2.7h-2.7zM968.5 244.6h2.7v2.7h-2.7zM968.9 244.3h2.7v2.7h-2.7zM969.3 243.9h2.7v2.7h-2.7zM969.7 243.5h2.7v2.7h-2.7zM970.1 243.2h2.7v2.7h-2.7zM970.5 242.8h2.7v2.7h-2.7zM970.9 242.5h2.7v2.7h-2.7zM971.3 242.1h2.7v2.7h-2.7zM971.7 241.8h2.7v2.7h-2.7zM972.1 241.4h2.7v2.7h-2.7zM972.5 241h2.7v2.7h-2.7zM972.9 240.7h2.7v2.7h-2.7zM973.3 240.3h2.7v2.7h-2.7zM973.7 240h2.7v2.7h-2.7zM974.1 239.6h2.7v2.7h-2.7zM974.5 239.2h2.7v2.7h-2.7zM974.9 238.9h2.7v2.7h-2.7zM975.3 238.5h2.7v2.7h-2.7zM975.7 238.1h2.7v2.7h-2.7zM976.1 237.8h2.7v2.7h-2.7zM976.5 237.4h2.7v2.7h-2.7zM976.9 237.1h2.7v2.7h-2.7zM977.3 236.7h2.7v2.7h-2.7zM977.7 236.3h2.7v2.7h-2.7zM978.1 236h2.7v2.7h-2.7zM978.5 235.6h2.7v2.7h-2.7zM978.9 235.2h2.7v2.7h-2.7zM979.3 234.8h2.7v2.7h-2.7zM979.7 234.5h2.7v2.7h-2.7zM980.1 234.1h2.7v2.7h-2.7zM980.5 233.7h2.7v2.7h-2.7zM980.9 233.4h2.7v2.7h-2.7zM981.3 233h2.7v2.7h-2.7zM981.7 232.6h2.7v2.7h-2.7zM982.1 232.2h2.7v2.7h-2.7zM982.5 231.9h2.7v2.7h-2.7zM982.9 231.5h2.7v2.7h-2.7zM983.3 231.1h2.7v2.7h-2.7zM983.8 230.7h2.7v2.7h-2.7zM984.2 230.4h2.7v2.7h-2.7zM984.6 230h2.7v2.7h-2.7zM985 229.6h2.7v2.7h-2.7zM985.4 229.2h2.7v2.7h-2.7zM985.8 228.9h2.7v2.7h-2.7zM986.2 228.5h2.7v2.7h-2.7zM986.6 228.1h2.7v2.7h-2.7zM987 227.7h2.7v2.7h-2.7zM987.4 227.3h2.7v2.7h-2.7zM987.8 226.9h2.7v2.7h-2.7zM988.2 226.6h2.7v2.7h-2.7zM988.6 226.2h2.7v2.7h-2.7zM989 225.8h2.7v2.7h-2.7zM989.4 225.4h2.7v2.7h-2.7zM989.8 225h2.7v2.7h-2.7zM990.2 224.6h2.7v2.7h-2.7zM990.6 224.2h2.7v2.7h-2.7zM991 223.9h2.7v2.7h-2.7zM991.4 223.5h2.7v2.7h-2.7zM991.8 223.1h2.7v2.7h-2.7zM992.2 222.7h2.7v2.7h-2.7zM992.6 222.3h2.7v2.7h-2.7zM993 221.9h2.7v2.7h-2.7zM993.4 221.5h2.7v2.7h-2.7zM993.8 221.1h2.7v2.7h-2.7zM994.2 220.7h2.7v2.7h-2.7zM994.6 220.3h2.7v2.7h-2.7zM995 219.9h2.7v2.7h-2.7zM995.4 219.5h2.7v2.7h-2.7zM995.8 219.1h2.7v2.7h-2.7zM996.2 218.7h2.7v2.7h-2.7zM996.6 218.3h2.7v2.7h-2.7zM997 217.9h2.7v2.7h-2.7zM997.4 217.5h2.7v2.7h-2.7zM997.8 217.1h2.7v2.7h-2.7zM998.2 216.7h2.7v2.7h-2.7zM998.6 216.3h2.7v2.7h-2.7zM999 215.9h2.7v2.7h-2.7zM999.4 215.5h2.7v2.7h-2.7zM999.8 215.1h2.7v2.7h-2.7zM1000.2 214.7h2.7v2.7h-2.7zM1000.6 214.3h2.7v2.7h-2.7zM1001 213.9h2.7v2.7h-2.7zM1001.4 213.5h2.7v2.7h-2.7zM1001.8 213.1h2.7v2.7h-2.7zM1002.2 212.7h2.7v2.7h-2.7zM1002.6 212.2h2.7v2.7h-2.7zM1003 211.8h2.7v2.7h-2.7zM1003.4 211.4h2.7v2.7h-2.7zM1003.8 211h2.7v2.7h-2.7zM1004.2 210.6h2.7v2.7h-2.7zM1004.6 210.2h2.7v2.7h-2.7zM1005 209.7h2.7v2.7h-2.7zM1005.4 209.3h2.7v2.7h-2.7zM1005.8 208.9h2.7v2.7h-2.7zM1006.2 208.5h2.7v2.7h-2.7zM1006.6 208.1h2.7v2.7h-2.7zM1007 207.6h2.7v2.7h-2.7zM1007.4 207.2h2.7v2.7h-2.7zM1007.8 206.8h2.7v2.7h-2.7zM1008.2 206.4h2.7v2.7h-2.7zM1008.6 206h2.7v2.7h-2.7zM1009 205.5h2.7v2.7h-2.7zM1009.4 205.1h2.7v2.7h-2.7zM1009.8 204.7h2.7v2.7h-2.7zM1010.2 204.2h2.7v2.7h-2.7z" stroke="#fa0a0a" stroke-width="0.8" fill="none"/>
</g>
<rect x="610.1" y="19.0" width="401.5" height="299.2" fill="none" stroke="#1e1e1e" stroke-width="1.2"/>
<path d="M610.1 318.2h-6.5M610.1 293.3h-3.6M610.1 268.3h-6.5M610.1 243.4h-3.6M610.1 218.5h-6.5M610.1 193.5h-3.6M610.1 168.6h-6.5M610.1 143.7h-3.6M610.1 118.7h-6.5M610.1 93.8h-3.6M610.1 68.9h-6.5M610.1 43.9h-3.6M610.1 19h-6.5M610.1 318.2v5.6M638.8 318.2v2.6M667.5 318.2v5.6M696.1 318.2v2.6M724.8 318.2v5.6M753.5 318.2v2.6M782.2 318.2v5.6M810.9 318.2v2.6M839.5 318.2v5.6M868.2 318.2v2.6M896.9 318.2v5.6M925.6 318.2v2.6M954.2 318.2v5.6M982.9 318.2v2.6M1011.6 318.2v5.6M650.2 19.0v3.2M690.4 19.0v5.5M730.6 19.0v3.2M770.7 19.0v5.5M810.9 19.0v3.2M851 19.0v5.5M891.2 19.0v3.2M931.3 19.0v5.5M971.5 19.0v3.2M1011.6 48.9h-3.2M1011.6 78.8h-5.5M1011.6 108.8h-3.2M1011.6 138.7h-5.5M1011.6 168.6h-3.2M1011.6 198.5h-5.5M1011.6 228.4h-3.2M1011.6 258.4h-5.5M1011.6 288.3h-3.2" stroke="#1e1e1e" stroke-width="1.1" fill="none"/>
<g font-family='"Liberation Sans", Arial, sans-serif' font-size="12.5" fill="#222226">
<text x="598.6" y="321.4" text-anchor="end">0.0</text>
<text x="598.6" y="271.5" text-anchor="end">0.2</text>
<text x="598.6" y="221.7" text-anchor="end">0.4</text>
<text x="598.6" y="171.8" text-anchor="end">0.6</text>
<text x="598.6" y="121.9" text-anchor="end">0.8</text>
<text x="598.6" y="72.1" text-anchor="end">1.0</text>
<text x="598.6" y="22.2" text-anchor="end">1.2</text>
<text x="608.9" y="337.6" text-anchor="middle" font-size="13">6</text>
<text x="666.3" y="337.6" text-anchor="middle" font-size="13">7</text>
<text x="723.6" y="337.6" text-anchor="middle" font-size="13">8</text>
<text x="781" y="337.6" text-anchor="middle" font-size="13">9</text>
<text x="838.3" y="337.6" text-anchor="middle" font-size="13">10</text>
<text x="895.7" y="337.6" text-anchor="middle" font-size="13">11</text>
<text x="953" y="337.6" text-anchor="middle" font-size="13">12</text>
<text x="1011.4" y="337.6" text-anchor="middle" font-size="13">13</text>
</g>
<text x="809.7" y="362.6" text-anchor="middle" font-family='"Liberation Sans", Arial, sans-serif' font-size="14" fill="#222226">f/GHz</text>
<text transform="translate(571 177.3) rotate(-90)" text-anchor="middle" font-family='"Liberation Sans", Arial, sans-serif' font-size="14" fill="#222226">Transmission</text>
<g font-family='"Liberation Sans", Arial, sans-serif' font-size="12.5" fill="#222226">
<text x="747.8" y="311.8">a</text><text x="762.3" y="88.2">b</text><text x="828.6" y="311.8">c</text><text x="858.6" y="87.2">d</text><text x="978.2" y="306.9">e</text>
</g>
<path d="M901 30.2H932.5" stroke="#0808e0" stroke-width="2.4"/><path d="M901 47.4H932.5" stroke="#10f018" stroke-width="2.4"/><path d="M901 82.2H932.5" stroke="#f510e8" stroke-width="2.1"/>
<rect x="914.6" y="63.1" width="2.6" height="2.6" fill="#f02020"/>
<g font-family='"Liberation Sans", Arial, sans-serif' font-size="13" fill="#222226">
<text x="936.4" y="35" textLength="65.6" lengthAdjust="spacing">Only strip I</text>
<text x="936.4" y="52.2" textLength="70.4" lengthAdjust="spacing">Only strip II</text>
<text x="936.4" y="69.4" textLength="28.5" lengthAdjust="spacing">Dual</text>
<text x="936.4" y="87" textLength="16" lengthAdjust="spacing">Tri</text>
</g>
</g>
<g id="pc">
<clipPath id="cpc"><rect x="114.4" y="405.3" width="383.9" height="320.9"/></clipPath>
<g clip-path="url(#cpc)">
<polygon points="172,565.8 173,565.7 174,565.6 175,565.5 176,565.5 177,565.4 178,565.3 179,565.2 180,565.1 181,564.9 182,564.8 183,564.7 184,564.6 185,564.5 186,564.3 187,564.2 188,564 189,563.9 190,563.7 191,563.5 192,563.3 193,563 194,562.7 195,562.4 196,562 197,561.6 198,561.2 199,560.8 200,560.3 201,559.8 202,559.3 203,558.7 204,558.1 205,557.4 206,556.7 207,555.9 208,555.1 209,554.2 210,553.3 211,552.3 212,551.3 213,550.2 214,549.1 215,547.9 216,546.6 217,545.3 218,543.9 219,542.5 220,541 221,539.5 222,538 223,536.4 224,534.8 225,533.1 226,531.3 227,529.5 228,527.6 229,525.6 230,523.5 231,521.4 232,519.3 233,517.3 234,515.3 235,513.2 236,511 237,508.5 238,505.7 239,502.7 240,499.7 241,496.6 242,493.6 243,490.6 244,487.6 245,484.5 246,481.4 247,478.3 248,475.2 249,472 250,468.8 251,465.8 252,462.9 253,460 254,457.2 255,454.4 256,451.7 257,448.9 258,446.1 259,443.3 260,440.6 261,438 262,435.6 263,433.2 264,430.9 265,428.6 266,426.5 267,424.4 268,422.4 269,420.5 270,418.6 271,416.7 272,414.8 273,413 274,411.3 275,410 276,408.9 277,407.9 278,407 279,406.3 280,405.8 281,405.5 282,405.4 283,405.3 284,405.3 285,405.5 286,405.7 287,406.5 288,407.7 289,409.2 290,410.4 291,411.5 292,412.6 293,413.7 294,414.8 295,416 296,417.2 297,418.4 298,419.7 299,421 300,422.4 301,423.9 302,425.4 303,427.1 304,428.8 305,430.7 306,432.7 307,434.8 308,437.2 309,439.7 310,442.1 311,444.4 312,446.4 313,448.4 314,450.8 315,453.8 316,457.3 317,460.8 318,464.2 319,467.3 320,470.2 321,473.1 322,475.9 323,478.7 324,481.7 325,484.8 326,488.4 327,491.1 328,494.1 329,497 330,499.9 331,502.7 332,505.4 333,508 334,510.5 335,512.8 336,515.1 337,517.3 338,519.5 339,521.7 340,523.8 341,525.8 342,527.7 343,529.6 344,531.4 345,533.1 346,534.8 347,536.4 348,537.9 349,539.4 350,540.9 351,542.3 352,543.7 353,545.1 354,546.4 355,547.6 356,548.8 357,550 358,551 359,552 360,552.9 361,553.8 362,554.6 363,555.5 364,556.3 365,557.1 366,557.9 367,558.7 368,559.5 369,560.2 370,560.9 371,561.5 372,562.2 373,562.8 374,563.3 375,563.8 376,564.3 377,564.7 378,565.1 379,565.5 380,565.8 380,565.8 379,566 378,566.4 377,566.8 376,567.2 375,567.7 374,568.2 373,568.7 372,569.3 371,570 370,570.6 369,571.3 368,572 367,572.8 366,573.6 365,574.4 364,575.2 363,576 362,576.9 361,577.7 360,578.6 359,579.5 358,580.5 357,581.5 356,582.7 355,583.9 354,585.1 353,586.4 352,587.8 351,589.2 350,590.6 349,592.1 348,593.6 347,595.1 346,596.7 345,598.4 344,600.1 343,601.9 342,603.8 341,605.7 340,607.7 339,609.8 338,612 337,614.2 336,616.4 335,618.7 334,621 333,623.5 332,626.1 331,628.8 330,631.6 329,634.5 328,637.4 327,640.4 326,643.1 325,646.7 324,649.8 323,652.8 322,655.6 321,658.4 320,661.3 319,664.2 318,667.3 317,670.7 316,674.2 315,677.7 314,680.7 313,683.1 312,685.1 311,687.1 310,689.4 309,691.8 308,694.3 307,696.7 306,698.8 305,700.8 304,702.7 303,704.4 302,706.1 301,707.6 300,709.1 299,710.5 298,711.8 297,713.1 296,714.3 295,715.5 294,716.7 293,717.8 292,718.9 291,720 290,721.1 289,722.3 288,723.8 287,725 286,725.8 285,726 284,726.2 283,726.2 282,726.1 281,726 280,725.7 279,725.2 278,724.5 277,723.6 276,722.6 275,721.5 274,720.2 273,718.5 272,716.7 271,714.8 270,712.9 269,711 268,709.1 267,707.1 266,705 265,702.9 264,700.6 263,698.3 262,695.9 261,693.5 260,690.9 259,688.2 258,685.4 257,682.6 256,679.8 255,677.1 254,674.3 253,671.5 252,668.6 251,665.7 250,662.7 249,659.5 248,656.3 247,653.2 246,650.1 245,647 244,643.9 243,640.9 242,637.9 241,634.9 240,631.8 239,628.8 238,625.8 237,623 236,620.5 235,618.3 234,616.2 233,614.2 232,612.2 231,610.1 230,608 229,605.9 228,603.9 227,602 226,600.2 225,598.4 224,596.7 223,595.1 222,593.5 221,592 220,590.5 219,589 218,587.6 217,586.2 216,584.9 215,583.6 214,582.4 213,581.3 212,580.2 211,579.2 210,578.2 209,577.3 208,576.4 207,575.6 206,574.8 205,574.1 204,573.4 203,572.8 202,572.2 201,571.7 200,571.2 199,570.7 198,570.3 197,569.9 196,569.5 195,569.1 194,568.8 193,568.5 192,568.2 191,568 190,567.8 189,567.6 188,567.5 187,567.3 186,567.2 185,567 184,566.9 183,566.8 182,566.7 181,566.6 180,566.4 179,566.3 178,566.2 177,566.1 176,566 175,566 174,565.9 173,565.8 172,565.8" fill="#ff0000"/>
<path d="M114.4 565.8H456.2" stroke="#ff0000" stroke-width="4.7"/>
<polygon points="183,565.8 184,565.7 185,565.6 186,565.4 187,565.3 188,565.2 189,565.1 190,564.9 191,564.8 192,564.7 193,564.5 194,564.4 195,564.2 196,564 197,563.9 198,563.7 199,563.5 200,563.3 201,563.1 202,562.9 203,562.7 204,562.4 205,562.1 206,561.8 207,561.5 208,561.2 209,560.8 210,560.4 211,559.9 212,559.5 213,559 214,558.5 215,557.9 216,557.3 217,556.6 218,555.8 219,555.1 220,554.3 221,553.5 222,552.6 223,551.7 224,550.7 225,549.6 226,548.5 227,547.4 228,546.1 229,544.8 230,543.3 231,541.8 232,540.1 233,538.4 234,536.6 235,534.8 236,532.9 237,530.8 238,528.6 239,526.4 240,524 241,521.5 242,518.8 243,515.9 244,513 245,510.2 246,507.5 247,504.8 248,502.2 249,499.6 250,497 251,494.4 252,491.9 253,489.3 254,486.8 255,484.4 256,481.9 257,479.6 258,477.3 259,475.1 260,472.9 261,470.7 262,468.4 263,466.1 264,463.7 265,461.1 266,458.4 267,455.9 268,453.8 269,451.8 270,449.9 271,448.1 272,446.3 273,444.5 274,442.8 275,441.2 276,439.8 277,438.5 278,437.4 279,436.5 280,435.8 281,435.2 282,434.8 283,434.7 284,434.7 285,434.7 286,434.7 287,434.7 288,434.7 289,434.7 290,434.7 291,434.7 292,434.7 293,434.7 294,434.7 295,434.7 296,434.7 297,434.7 298,434.9 299,435.5 300,436.1 301,437 302,438.1 303,439.3 304,440.6 305,442.2 306,443.9 307,445.6 308,447.2 309,448.9 310,450.8 311,452.8 312,455 313,457.2 314,459.6 315,461.9 316,464.3 317,466.6 318,468.9 319,471.3 320,473.7 321,476.1 322,478.6 323,481 324,483.4 325,485.9 326,488.4 327,490.9 328,493.4 329,496 330,498.5 331,501.1 332,503.7 333,506.4 334,509.2 335,511.7 336,514.1 337,516.3 338,518.5 339,520.6 340,522.6 341,524.7 342,526.6 343,528.5 344,530.4 345,532.1 346,533.8 347,535.4 348,536.9 349,538.4 350,539.7 351,541.1 352,542.4 353,543.6 354,544.8 355,546 356,547.1 357,548.2 358,549.3 359,550.3 360,551.2 361,552.2 362,553.1 363,553.9 364,554.8 365,555.6 366,556.3 367,557 368,557.7 369,558.3 370,558.9 371,559.5 372,560 373,560.5 374,561 375,561.4 376,561.8 377,562.2 378,562.5 379,562.9 380,563.2 381,563.5 382,563.7 383,563.9 384,564.2 385,564.4 386,564.6 387,564.7 388,564.9 389,565 390,565.1 391,565.2 392,565.3 393,565.4 394,565.5 395,565.6 396,565.7 397,565.7 398,565.8 398,565.8 397,565.8 396,565.8 395,565.9 394,566 393,566.1 392,566.2 391,566.3 390,566.4 389,566.5 388,566.6 387,566.8 386,566.9 385,567.1 384,567.3 383,567.6 382,567.8 381,568 380,568.3 379,568.6 378,569 377,569.3 376,569.7 375,570.1 374,570.5 373,571 372,571.5 371,572 370,572.6 369,573.2 368,573.8 367,574.5 366,575.2 365,575.9 364,576.7 363,577.6 362,578.4 361,579.3 360,580.3 359,581.2 358,582.2 357,583.3 356,584.4 355,585.5 354,586.7 353,587.9 352,589.1 351,590.4 350,591.8 349,593.1 348,594.6 347,596.1 346,597.7 345,599.4 344,601.1 343,603 342,604.9 341,606.8 340,608.9 339,610.9 338,613 337,615.2 336,617.4 335,619.8 334,622.3 333,625.1 332,627.8 331,630.4 330,633 329,635.5 328,638.1 327,640.6 326,643.1 325,645.6 324,648.1 323,650.5 322,652.9 321,655.4 320,657.8 319,660.2 318,662.6 317,664.9 316,667.2 315,669.6 314,671.9 313,674.3 312,676.5 311,678.7 310,680.7 309,682.6 308,684.3 307,685.9 306,687.6 305,689.3 304,690.9 303,692.2 302,693.4 301,694.5 300,695.4 299,696 298,696.6 297,696.8 296,696.8 295,696.8 294,696.8 293,696.8 292,696.8 291,696.8 290,696.8 289,696.8 288,696.8 287,696.8 286,696.8 285,696.8 284,696.8 283,696.8 282,696.7 281,696.3 280,695.7 279,695 278,694.1 277,693 276,691.7 275,690.3 274,688.7 273,687 272,685.2 271,683.4 270,681.6 269,679.7 268,677.7 267,675.6 266,673.1 265,670.4 264,667.8 263,665.4 262,663.1 261,660.8 260,658.6 259,656.4 258,654.2 257,651.9 256,649.6 255,647.1 254,644.7 253,642.2 252,639.6 251,637.1 250,634.5 249,631.9 248,629.3 247,626.7 246,624 245,621.3 244,618.5 243,615.6 242,612.7 241,610 240,607.5 239,605.1 238,602.9 237,600.7 236,598.6 235,596.7 234,594.9 233,593.1 232,591.4 231,589.7 230,588.2 229,586.7 228,585.4 227,584.1 226,583 225,581.9 224,580.8 223,579.8 222,578.9 221,578 220,577.2 219,576.4 218,575.7 217,574.9 216,574.2 215,573.6 214,573 213,572.5 212,572 211,571.6 210,571.1 209,570.7 208,570.3 207,570 206,569.7 205,569.4 204,569.1 203,568.8 202,568.6 201,568.4 200,568.2 199,568 198,567.8 197,567.6 196,567.5 195,567.3 194,567.1 193,567 192,566.8 191,566.7 190,566.6 189,566.4 188,566.3 187,566.2 186,566.1 185,565.9 184,565.8 183,565.8" fill="#0000ff"/>
<path d="M114.4 565.8H455.2" stroke="#0000ff" stroke-width="4.4"/>
<path d="M455.2 563.5L457.7 565.8L455.2 568z" fill="#0000ff"/>
<path d="M433.5 563.8H455.7" stroke="#ff0000" stroke-width="1.2" stroke-linecap="round"/>
</g>
<rect x="114.4" y="405.3" width="383.9" height="320.9" fill="none" stroke="#1e1e1e" stroke-width="1.6"/>
<path d="M114.4 726.2h-6.3M114.4 710.2h-3.6M114.4 694.1h-6.3M114.4 678.1h-3.6M114.4 662h-6.3M114.4 646h-3.6M114.4 629.9h-6.3M114.4 613.9h-3.6M114.4 597.8h-6.3M114.4 581.8h-3.6M114.4 565.8h-6.3M114.4 549.7h-3.6M114.4 533.7h-6.3M114.4 517.6h-3.6M114.4 501.6h-6.3M114.4 485.5h-3.6M114.4 469.5h-6.3M114.4 453.4h-3.6M114.4 437.4h-6.3M114.4 421.3h-3.6M114.4 405.3h-6.3M114.4 726.2v6.4M138.4 726.2v4.0M162.4 726.2v6.4M186.4 726.2v4.0M210.4 726.2v6.4M234.4 726.2v4.0M258.4 726.2v6.4M282.4 726.2v4.0M306.4 726.2v6.4M330.3 726.2v4.0M354.3 726.2v6.4M378.3 726.2v4.0M402.3 726.2v6.4M426.3 726.2v4.0M450.3 726.2v6.4M474.3 726.2v4.0M498.3 726.2v6.4M152.8 405.3v3.2M191.2 405.3v5.5M229.6 405.3v3.2M268 405.3v5.5M306.4 405.3v3.2M344.7 405.3v5.5M383.1 405.3v3.2M421.5 405.3v5.5M459.9 405.3v3.2M498.3 437.4h-3.2M498.3 469.5h-5.5M498.3 501.6h-3.2M498.3 533.7h-5.5M498.3 565.8h-3.2M498.3 597.8h-5.5M498.3 629.9h-3.2M498.3 662h-5.5M498.3 694.1h-3.2" stroke="#1e1e1e" stroke-width="1.5" fill="none"/>
<g font-family='"Liberation Sans", Arial, sans-serif' font-size="19.8" fill="#222226">
<text transform="translate(105.6 731.1) scale(0.925 1)" text-anchor="end">-1.0</text>
<text transform="translate(105.6 699) scale(0.925 1)" text-anchor="end">-0.8</text>
<text transform="translate(105.6 666.9) scale(0.925 1)" text-anchor="end">-0.6</text>
<text transform="translate(105.6 634.8) scale(0.925 1)" text-anchor="end">-0.4</text>
<text transform="translate(105.6 602.7) scale(0.925 1)" text-anchor="end">-0.2</text>
<text transform="translate(105.6 570.6) scale(0.925 1)" text-anchor="end">0.0</text>
<text transform="translate(105.6 538.6) scale(0.925 1)" text-anchor="end">0.2</text>
<text transform="translate(105.6 506.5) scale(0.925 1)" text-anchor="end">0.4</text>
<text transform="translate(105.6 474.4) scale(0.925 1)" text-anchor="end">0.6</text>
<text transform="translate(105.6 442.3) scale(0.925 1)" text-anchor="end">0.8</text>
<text transform="translate(105.6 410.9) scale(0.925 1)" text-anchor="end">1.0</text>
<text transform="translate(114.4 750.5) scale(0.94 1)" text-anchor="middle">0</text>
<text transform="translate(162.4 750.5) scale(0.94 1)" text-anchor="middle">10</text>
<text transform="translate(210.4 750.5) scale(0.94 1)" text-anchor="middle">20</text>
<text transform="translate(258.4 750.5) scale(0.94 1)" text-anchor="middle">30</text>
<text transform="translate(306.4 750.5) scale(0.94 1)" text-anchor="middle">40</text>
<text transform="translate(354.3 750.5) scale(0.94 1)" text-anchor="middle">50</text>
<text transform="translate(402.3 750.5) scale(0.94 1)" text-anchor="middle">60</text>
<text transform="translate(450.3 750.5) scale(0.94 1)" text-anchor="middle">70</text>
<text transform="translate(498.3 750.5) scale(0.94 1)" text-anchor="middle">80</text>
</g>
<text x="275.9" y="783.1" textLength="60.8" lengthAdjust="spacingAndGlyphs" font-family='"Liberation Sans", Arial, sans-serif' font-size="19.5" fill="#222226">Time/ns</text>
<text transform="translate(54.3 653) rotate(-90)" textLength="186" lengthAdjust="spacingAndGlyphs" font-family='"Liberation Sans", Arial, sans-serif' font-size="21.2" fill="#222226">Value of Time signals</text>
<path d="M315.5 421.5H352.5" stroke="#ff0000" stroke-width="4.2" stroke-linecap="round"/>
<path d="M315.5 444.9H352.5" stroke="#0000ff" stroke-width="4.6" stroke-linecap="round"/>
<text x="357.4" y="427.8" textLength="106.5" lengthAdjust="spacingAndGlyphs" font-family='"Liberation Sans", Arial, sans-serif' font-size="18.5" fill="#222226">Incident pulse</text>
<text x="358.79999999999995" y="450.7" textLength="135.8" lengthAdjust="spacingAndGlyphs" font-family='"Liberation Sans", Arial, sans-serif' font-size="18.5" fill="#222226">Transmitted pulse</text>
</g>
<g id="pd">
<clipPath id="cpd"><rect x="614.1" y="404.0" width="398.5" height="325.2"/></clipPath>
<g clip-path="url(#cpd)">
<polygon points="668,566.2 669,566.2 670,566.1 671,566.1 672,566 673,566 674,565.9 675,565.8 676,565.8 677,565.7 678,565.6 679,565.5 680,565.4 681,565.3 682,565.2 683,565 684,564.9 685,564.7 686,564.6 687,564.4 688,564.2 689,564 690,563.8 691,563.6 692,563.3 693,563.1 694,562.8 695,562.5 696,562.2 697,561.8 698,561.4 699,561.1 700,560.6 701,560.2 702,559.7 703,559.2 704,558.7 705,558.1 706,557.6 707,556.9 708,556.3 709,555.6 710,554.8 711,554.1 712,553.2 713,552.4 714,551.5 715,550.6 716,549.6 717,548.5 718,547.4 719,546.3 720,545.1 721,543.9 722,542.6 723,541.3 724,539.9 725,538.4 726,536.9 727,535.4 728,533.8 729,532.1 730,530.4 731,528.6 732,526.7 733,524.8 734,522.9 735,520.9 736,518.8 737,516.7 738,514.5 739,512.3 740,510 741,507.7 742,505.4 743,502.9 744,500.5 745,498 746,495.4 747,492.9 748,490.3 749,487.6 750,485 751,482.3 752,479.6 753,476.8 754,474.1 755,471.3 756,468.6 757,465.8 758,463.1 759,460.3 760,457.6 761,454.9 762,452.2 763,449.5 764,446.9 765,444.3 766,441.7 767,439.2 768,436.8 769,434.4 770,432 771,429.7 772,427.5 773,425.4 774,423.3 775,421.4 776,419.5 777,417.7 778,416 779,414.4 780,412.9 781,411.5 782,410.2 783,409.1 784,408 785,407.1 786,406.3 787,405.6 788,405 789,404.6 790,404.3 791,404.1 792,404 793,404.1 794,404.3 795,404.6 796,405 797,405.6 798,406.3 799,407.1 800,408 801,409.1 802,410.2 803,411.5 804,412.9 805,414.4 806,416 807,417.7 808,419.5 809,421.4 810,423.3 811,425.4 812,427.5 813,429.7 814,432 815,434.4 816,436.8 817,439.2 818,441.7 819,444.3 820,446.9 821,449.5 822,452.2 823,454.9 824,457.6 825,460.3 826,463.1 827,465.8 828,468.6 829,471.3 830,474.1 831,476.8 832,479.6 833,482.3 834,485 835,487.6 836,490.3 837,492.9 838,495.4 839,498 840,500.5 841,502.9 842,505.4 843,507.7 844,510 845,512.3 846,514.5 847,516.7 848,518.8 849,520.9 850,522.9 851,524.8 852,526.7 853,528.6 854,530.4 855,532.1 856,533.8 857,535.4 858,536.9 859,538.4 860,539.9 861,541.3 862,542.6 863,543.9 864,545.1 865,546.3 866,547.4 867,548.5 868,549.6 869,550.6 870,551.5 871,552.4 872,553.2 873,554.1 874,554.8 875,555.6 876,556.3 877,556.9 878,557.6 879,558.1 880,558.7 881,559.2 882,559.7 883,560.2 884,560.6 885,561.1 886,561.4 887,561.8 888,562.2 889,562.5 890,562.8 891,563.1 892,563.3 893,563.6 894,563.8 895,564 896,564.2 897,564.4 898,564.6 899,564.7 900,564.9 901,565 902,565.2 903,565.3 904,565.4 905,565.5 906,565.6 907,565.7 908,565.8 909,565.8 910,565.9 910,567.3 909,567.4 908,567.4 907,567.5 906,567.6 905,567.7 904,567.8 903,567.9 902,568 901,568.2 900,568.3 899,568.5 898,568.6 897,568.8 896,569 895,569.2 894,569.4 893,569.6 892,569.9 891,570.1 890,570.4 889,570.7 888,571 887,571.4 886,571.8 885,572.1 884,572.6 883,573 882,573.5 881,574 880,574.5 879,575.1 878,575.6 877,576.3 876,576.9 875,577.6 874,578.4 873,579.1 872,580 871,580.8 870,581.7 869,582.6 868,583.6 867,584.7 866,585.8 865,586.9 864,588.1 863,589.3 862,590.6 861,591.9 860,593.3 859,594.8 858,596.3 857,597.8 856,599.4 855,601.1 854,602.8 853,604.6 852,606.5 851,608.4 850,610.3 849,612.3 848,614.4 847,616.5 846,618.7 845,620.9 844,623.2 843,625.5 842,627.8 841,630.3 840,632.7 839,635.2 838,637.8 837,640.3 836,642.9 835,645.6 834,648.2 833,650.9 832,653.6 831,656.4 830,659.1 829,661.9 828,664.6 827,667.4 826,670.1 825,672.9 824,675.6 823,678.3 822,681 821,683.7 820,686.3 819,688.9 818,691.5 817,694 816,696.4 815,698.8 814,701.2 813,703.5 812,705.7 811,707.8 810,709.9 809,711.8 808,713.7 807,715.5 806,717.2 805,718.8 804,720.3 803,721.7 802,723 801,724.1 800,725.2 799,726.1 798,726.9 797,727.6 796,728.2 795,728.6 794,728.9 793,729.1 792,729.2 791,729.1 790,728.9 789,728.6 788,728.2 787,727.6 786,726.9 785,726.1 784,725.2 783,724.1 782,723 781,721.7 780,720.3 779,718.8 778,717.2 777,715.5 776,713.7 775,711.8 774,709.9 773,707.8 772,705.7 771,703.5 770,701.2 769,698.8 768,696.4 767,694 766,691.5 765,688.9 764,686.3 763,683.7 762,681 761,678.3 760,675.6 759,672.9 758,670.1 757,667.4 756,664.6 755,661.9 754,659.1 753,656.4 752,653.6 751,650.9 750,648.2 749,645.6 748,642.9 747,640.3 746,637.8 745,635.2 744,632.7 743,630.3 742,627.8 741,625.5 740,623.2 739,620.9 738,618.7 737,616.5 736,614.4 735,612.3 734,610.3 733,608.4 732,606.5 731,604.6 730,602.8 729,601.1 728,599.4 727,597.8 726,596.3 725,594.8 724,593.3 723,591.9 722,590.6 721,589.3 720,588.1 719,586.9 718,585.8 717,584.7 716,583.6 715,582.6 714,581.7 713,580.8 712,580 711,579.1 710,578.4 709,577.6 708,576.9 707,576.3 706,575.6 705,575.1 704,574.5 703,574 702,573.5 701,573 700,572.6 699,572.1 698,571.8 697,571.4 696,571 695,570.7 694,570.4 693,570.1 692,569.9 691,569.6 690,569.4 689,569.2 688,569 687,568.8 686,568.6 685,568.5 684,568.3 683,568.2 682,568 681,567.9 680,567.8 679,567.7 678,567.6 677,567.5 676,567.4 675,567.4 674,567.3 673,567.2 672,567.2 671,567.1 670,567.1 669,567 668,567" fill="#ff0000"/>
<path d="M614.1 566.6H969" stroke="#ff0000" stroke-width="3.5999999999999996"/>
<polygon points="686,566.6 687,566.5 688,566.4 689,566.3 690,566.2 691,566.1 692,566 693,565.9 694,565.7 695,565.6 696,565.5 697,565.4 698,565.2 699,565.1 700,564.9 701,564.8 702,564.6 703,564.5 704,564.3 705,564.1 706,563.9 707,563.7 708,563.5 709,563.2 710,563 711,562.7 712,562.5 713,562.2 714,561.9 715,561.5 716,561.1 717,560.7 718,560.3 719,559.8 720,559.3 721,558.8 722,558.3 723,557.7 724,557.1 725,556.4 726,555.7 727,555 728,554.2 729,553.3 730,552.5 731,551.5 732,550.5 733,549.5 734,548.4 735,547.2 736,545.9 737,544.5 738,543 739,541.4 740,539.7 741,537.9 742,535.8 743,533.7 744,531.3 745,528.9 746,526.2 747,523 748,519.5 749,516 750,512.7 751,509.8 752,507.1 753,504.5 754,502 755,499.6 756,497.1 757,494.7 758,492.3 759,490 760,487.7 761,485.2 762,482.6 763,479.7 764,476.6 765,473.5 766,470.5 767,467.7 768,465.2 769,463.1 770,461.2 771,459.1 772,456.7 773,454.3 774,451.8 775,449.5 776,447.2 777,445 778,442.8 779,440.6 780,438.4 781,436.3 782,434.2 783,432.1 784,430 785,428 786,426.1 787,424.3 788,422.6 789,420.9 790,419.3 791,417.9 792,416.7 793,415.9 794,415.2 795,414.6 796,414.2 797,414 798,413.9 799,413.9 800,413.8 801,413.8 802,413.8 803,413.8 804,413.8 805,414.3 806,415.1 807,416 808,416.9 809,417.8 810,418.8 811,419.8 812,420.9 813,422.1 814,423.3 815,424.5 816,426 817,427.6 818,429.3 819,430.9 820,432.5 821,434 822,435.6 823,437.4 824,439.4 825,441.6 826,443.9 827,446.1 828,448.2 829,450.4 830,453 831,456.2 832,459 833,461 834,462.7 835,464.5 836,466.6 837,469 838,471.4 839,473.9 840,476.5 841,479 842,481.5 843,483.8 844,486.1 845,488.4 846,490.8 847,493.1 848,495.6 849,498.1 850,500.5 851,503 852,505.5 853,507.9 854,510.4 855,512.9 856,515.4 857,517.8 858,520 859,522.1 860,524.1 861,526 862,527.8 863,529.6 864,531.3 865,532.9 866,534.5 867,536 868,537.5 869,539 870,540.4 871,541.8 872,543.1 873,544.5 874,545.8 875,547 876,548.2 877,549.4 878,550.5 879,551.5 880,552.4 881,553.2 882,553.9 883,554.6 884,555.3 885,556 886,556.6 887,557.1 888,557.7 889,558.2 890,558.7 891,559.2 892,559.7 893,560.1 894,560.6 895,561 896,561.4 897,561.8 898,562.2 899,562.5 900,562.8 901,563.1 902,563.4 903,563.7 904,563.9 905,564.1 906,564.3 907,564.6 908,564.8 909,564.9 910,565.1 911,565.3 912,565.4 913,565.5 914,565.6 915,565.8 916,565.9 917,566 918,566.1 919,566.2 920,566.3 921,566.4 922,566.4 923,566.5 924,566.6 925,566.6 925,566.6 924,566.6 923,566.7 922,566.8 921,566.8 920,566.9 919,567 918,567.1 917,567.2 916,567.3 915,567.4 914,567.6 913,567.7 912,567.8 911,567.9 910,568.1 909,568.3 908,568.4 907,568.6 906,568.9 905,569.1 904,569.3 903,569.5 902,569.8 901,570.1 900,570.4 899,570.7 898,571 897,571.4 896,571.8 895,572.2 894,572.6 893,573.1 892,573.5 891,574 890,574.5 889,575 888,575.5 887,576.1 886,576.6 885,577.2 884,577.9 883,578.6 882,579.3 881,580 880,580.8 879,581.7 878,582.7 877,583.8 876,585 875,586.2 874,587.4 873,588.7 872,590.1 871,591.4 870,592.8 869,594.2 868,595.7 867,597.2 866,598.7 865,600.3 864,601.9 863,603.6 862,605.4 861,607.2 860,609.1 859,611.1 858,613.2 857,615.4 856,617.8 855,620.3 854,622.8 853,625.3 852,627.7 851,630.2 850,632.7 849,635.1 848,637.6 847,640.1 846,642.4 845,644.8 844,647.1 843,649.4 842,651.7 841,654.2 840,656.7 839,659.3 838,661.8 837,664.2 836,666.6 835,668.7 834,670.5 833,672.2 832,674.2 831,677 830,680.2 829,682.8 828,685 827,687.1 826,689.3 825,691.6 824,693.8 823,695.8 822,697.6 821,699.2 820,700.7 819,702.3 818,703.9 817,705.6 816,707.2 815,708.7 814,709.9 813,711.1 812,712.3 811,713.4 810,714.4 809,715.4 808,716.3 807,717.2 806,718.1 805,718.9 804,719.4 803,719.4 802,719.4 801,719.4 800,719.4 799,719.3 798,719.3 797,719.2 796,719 795,718.6 794,718 793,717.3 792,716.5 791,715.3 790,713.9 789,712.3 788,710.6 787,708.9 786,707.1 785,705.2 784,703.2 783,701.1 782,699 781,696.9 780,694.8 779,692.6 778,690.4 777,688.2 776,686 775,683.7 774,681.4 773,678.9 772,676.5 771,674.1 770,672 769,670.1 768,668 767,665.5 766,662.7 765,659.7 764,656.6 763,653.5 762,650.6 761,648 760,645.5 759,643.2 758,640.9 757,638.5 756,636.1 755,633.6 754,631.2 753,628.7 752,626.1 751,623.4 750,620.5 749,617.2 748,613.7 747,610.2 746,607 745,604.3 744,601.9 743,599.5 742,597.4 741,595.3 740,593.5 739,591.8 738,590.2 737,588.7 736,587.3 735,586 734,584.8 733,583.7 732,582.7 731,581.7 730,580.7 729,579.9 728,579 727,578.2 726,577.5 725,576.8 724,576.1 723,575.5 722,574.9 721,574.4 720,573.9 719,573.4 718,572.9 717,572.5 716,572.1 715,571.7 714,571.3 713,571 712,570.7 711,570.5 710,570.2 709,570 708,569.7 707,569.5 706,569.3 705,569.1 704,568.9 703,568.7 702,568.6 701,568.4 700,568.3 699,568.1 698,568 697,567.8 696,567.7 695,567.6 694,567.5 693,567.3 692,567.2 691,567.1 690,567 689,566.9 688,566.8 687,566.7 686,566.6" fill="#0000ff"/>
<path d="M614.1 566.6H968" stroke="#0000ff" stroke-width="3.3"/>
<path d="M968 565L970.5 566.6L968 568.2z" fill="#0000ff"/>
</g>
<rect x="614.1" y="404.0" width="398.5" height="325.2" fill="none" stroke="#1e1e1e" stroke-width="1.6"/>
<path d="M614.1 729.2h-6.3M614.1 712.9h-3.6M614.1 696.7h-6.3M614.1 680.4h-3.6M614.1 664.2h-6.3M614.1 647.9h-3.6M614.1 631.6h-6.3M614.1 615.4h-3.6M614.1 599.1h-6.3M614.1 582.9h-3.6M614.1 566.6h-6.3M614.1 550.3h-3.6M614.1 534.1h-6.3M614.1 517.8h-3.6M614.1 501.6h-6.3M614.1 485.3h-3.6M614.1 469h-6.3M614.1 452.8h-3.6M614.1 436.5h-6.3M614.1 420.3h-3.6M614.1 404h-6.3M614.1 729.2v6.4M639 729.2v4.0M663.9 729.2v6.4M688.8 729.2v4.0M713.7 729.2v6.4M738.6 729.2v4.0M763.5 729.2v6.4M788.4 729.2v4.0M813.4 729.2v6.4M838.3 729.2v4.0M863.2 729.2v6.4M888.1 729.2v4.0M913 729.2v6.4M937.9 729.2v4.0M962.8 729.2v6.4M987.7 729.2v4.0M1012.6 729.2v6.4M654 404.0v3.2M693.8 404.0v5.5M733.6 404.0v3.2M773.5 404.0v5.5M813.4 404.0v3.2M853.2 404.0v5.5M893 404.0v3.2M932.9 404.0v5.5M972.8 404.0v3.2M1012.6 436.5h-3.2M1012.6 469h-5.5M1012.6 501.6h-3.2M1012.6 534.1h-5.5M1012.6 566.6h-3.2M1012.6 599.1h-5.5M1012.6 631.6h-3.2M1012.6 664.2h-5.5M1012.6 696.7h-3.2" stroke="#1e1e1e" stroke-width="1.5" fill="none"/>
<g font-family='"Liberation Sans", Arial, sans-serif' font-size="19.8" fill="#222226">
<text transform="translate(604.2 735.1) scale(0.925 1)" text-anchor="end">-1.0</text>
<text transform="translate(604.2 702.4) scale(0.925 1)" text-anchor="end">-0.8</text>
<text transform="translate(604.2 669.8) scale(0.925 1)" text-anchor="end">-0.6</text>
<text transform="translate(604.2 637.1) scale(0.925 1)" text-anchor="end">-0.4</text>
<text transform="translate(604.2 604.4) scale(0.925 1)" text-anchor="end">-0.2</text>
<text transform="translate(604.2 571.8) scale(0.925 1)" text-anchor="end">0.0</text>
<text transform="translate(604.2 539.1) scale(0.925 1)" text-anchor="end">0.2</text>
<text transform="translate(604.2 506.4) scale(0.925 1)" text-anchor="end">0.4</text>
<text transform="translate(604.2 473.7) scale(0.925 1)" text-anchor="end">0.6</text>
<text transform="translate(604.2 441.1) scale(0.925 1)" text-anchor="end">0.8</text>
<text transform="translate(604.2 408.4) scale(0.925 1)" text-anchor="end">1.0</text>
<text transform="translate(614.1 754.5) scale(0.94 1)" text-anchor="middle">0</text>
<text transform="translate(663.9 754.5) scale(0.94 1)" text-anchor="middle">5</text>
<text transform="translate(713.7 754.5) scale(0.94 1)" text-anchor="middle">10</text>
<text transform="translate(763.5 754.5) scale(0.94 1)" text-anchor="middle">15</text>
<text transform="translate(813.4 754.5) scale(0.94 1)" text-anchor="middle">20</text>
<text transform="translate(863.2 754.5) scale(0.94 1)" text-anchor="middle">25</text>
<text transform="translate(913 754.5) scale(0.94 1)" text-anchor="middle">30</text>
<text transform="translate(962.8 754.5) scale(0.94 1)" text-anchor="middle">35</text>
<text transform="translate(1012.6 754.5) scale(0.94 1)" text-anchor="middle">40</text>
</g>
<text x="781.4" y="786.6" textLength="64.4" lengthAdjust="spacingAndGlyphs" font-family='"Liberation Sans", Arial, sans-serif' font-size="19.5" fill="#222226">Time/ns</text>
<text transform="translate(551.8 656.2) rotate(-90)" textLength="192.4" lengthAdjust="spacingAndGlyphs" font-family='"Liberation Sans", Arial, sans-serif' font-size="21.2" fill="#222226">Value of Time Signals</text>
<path d="M827 416.2H865.2" stroke="#ff0000" stroke-width="4.2" stroke-linecap="round"/>
<path d="M827 441.1H865.2" stroke="#0000ff" stroke-width="4.6" stroke-linecap="round"/>
<text x="871.3" y="423.1" textLength="109.7" lengthAdjust="spacingAndGlyphs" font-family='"Liberation Sans", Arial, sans-serif' font-size="18.5" fill="#222226">Incident pulse</text>
<text x="872.6999999999999" y="447.2" textLength="139.7" lengthAdjust="spacingAndGlyphs" font-family='"Liberation Sans", Arial, sans-serif' font-size="18.5" fill="#222226">Transmitted pulse</text>
</g>
</svg></body></html>
